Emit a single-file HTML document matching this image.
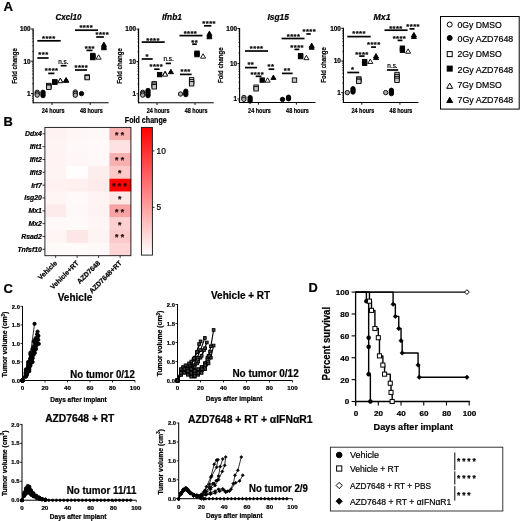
<!DOCTYPE html>
<html><head><meta charset="utf-8"><title>Figure</title>
<style>
html,body{margin:0;padding:0;background:#fff;overflow:hidden;}
svg{display:block;}
text{font-family:'Liberation Sans', Arial, sans-serif;stroke:#000;stroke-width:0.22px;}
</style></head>
<body>
<svg width="520" height="521" viewBox="0 0 520 521">
<rect x="0" y="0" width="520" height="521" fill="#fff"/>
<text x="3.40" y="11.40" font-size="13.2" text-anchor="start" font-weight="bold" stroke-width="0.45">A</text>
<line x1="33.20" y1="28.50" x2="33.20" y2="103.30" stroke="#000" stroke-width="1.1"/>
<line x1="32.70" y1="102.80" x2="108.60" y2="102.80" stroke="#000" stroke-width="1.1"/>
<line x1="31.00" y1="29.00" x2="33.20" y2="29.00" stroke="#000" stroke-width="0.9"/>
<text x="30.60" y="31.30" font-size="6.4" text-anchor="end" font-weight="bold">100</text>
<line x1="31.00" y1="61.20" x2="33.20" y2="61.20" stroke="#000" stroke-width="0.9"/>
<text x="30.60" y="63.50" font-size="6.4" text-anchor="end" font-weight="bold">10</text>
<line x1="31.00" y1="93.50" x2="33.20" y2="93.50" stroke="#000" stroke-width="0.9"/>
<text x="30.60" y="95.80" font-size="6.4" text-anchor="end" font-weight="bold">1</text>
<line x1="31.90" y1="83.79" x2="33.20" y2="83.79" stroke="#000" stroke-width="0.6"/>
<line x1="31.90" y1="78.11" x2="33.20" y2="78.11" stroke="#000" stroke-width="0.6"/>
<line x1="31.90" y1="74.08" x2="33.20" y2="74.08" stroke="#000" stroke-width="0.6"/>
<line x1="31.90" y1="70.96" x2="33.20" y2="70.96" stroke="#000" stroke-width="0.6"/>
<line x1="31.90" y1="68.40" x2="33.20" y2="68.40" stroke="#000" stroke-width="0.6"/>
<line x1="31.90" y1="66.25" x2="33.20" y2="66.25" stroke="#000" stroke-width="0.6"/>
<line x1="31.90" y1="64.38" x2="33.20" y2="64.38" stroke="#000" stroke-width="0.6"/>
<line x1="31.90" y1="62.73" x2="33.20" y2="62.73" stroke="#000" stroke-width="0.6"/>
<line x1="31.90" y1="51.49" x2="33.20" y2="51.49" stroke="#000" stroke-width="0.6"/>
<line x1="31.90" y1="45.81" x2="33.20" y2="45.81" stroke="#000" stroke-width="0.6"/>
<line x1="31.90" y1="41.78" x2="33.20" y2="41.78" stroke="#000" stroke-width="0.6"/>
<line x1="31.90" y1="38.66" x2="33.20" y2="38.66" stroke="#000" stroke-width="0.6"/>
<line x1="31.90" y1="36.10" x2="33.20" y2="36.10" stroke="#000" stroke-width="0.6"/>
<line x1="31.90" y1="33.95" x2="33.20" y2="33.95" stroke="#000" stroke-width="0.6"/>
<line x1="31.90" y1="32.08" x2="33.20" y2="32.08" stroke="#000" stroke-width="0.6"/>
<line x1="31.90" y1="30.43" x2="33.20" y2="30.43" stroke="#000" stroke-width="0.6"/>
<line x1="31.90" y1="100.65" x2="33.20" y2="100.65" stroke="#000" stroke-width="0.6"/>
<line x1="31.90" y1="98.50" x2="33.20" y2="98.50" stroke="#000" stroke-width="0.6"/>
<line x1="31.90" y1="96.63" x2="33.20" y2="96.63" stroke="#000" stroke-width="0.6"/>
<line x1="31.90" y1="94.98" x2="33.20" y2="94.98" stroke="#000" stroke-width="0.6"/>
<line x1="52.00" y1="102.80" x2="52.00" y2="105.00" stroke="#000" stroke-width="0.9"/>
<text x="53.10" y="113.10" font-size="6.9" text-anchor="middle" font-weight="bold" textLength="22.80" lengthAdjust="spacingAndGlyphs">24 hours</text>
<line x1="90.20" y1="102.80" x2="90.20" y2="105.00" stroke="#000" stroke-width="0.9"/>
<text x="91.30" y="113.10" font-size="6.9" text-anchor="middle" font-weight="bold" textLength="22.80" lengthAdjust="spacingAndGlyphs">48 hours</text>
<text x="17.10" y="66.00" font-size="7.2" text-anchor="middle" font-weight="bold" textLength="35.70" lengthAdjust="spacingAndGlyphs" transform="rotate(-90 17.10 66.00)">Fold change</text>
<text x="68.50" y="20.00" font-size="9.3" text-anchor="middle" font-weight="bold" font-style="italic" textLength="26.00" lengthAdjust="spacingAndGlyphs" stroke-width="0.4">Cxcl10</text>
<line x1="37.30" y1="40.80" x2="60.70" y2="40.80" stroke="#000" stroke-width="1.7"/>
<text x="48.85" y="40.61" font-size="7.6" text-anchor="middle" font-weight="bold" letter-spacing="0.45">****</text>
<line x1="37.30" y1="58.00" x2="48.60" y2="58.00" stroke="#000" stroke-width="1.7"/>
<text x="43.45" y="57.41" font-size="7.6" text-anchor="middle" font-weight="bold" letter-spacing="0.45">***</text>
<line x1="48.20" y1="73.40" x2="54.40" y2="73.40" stroke="#000" stroke-width="1.7"/>
<text x="51.65" y="73.21" font-size="7.6" text-anchor="middle" font-weight="bold" letter-spacing="0.45">****</text>
<line x1="60.70" y1="65.70" x2="66.50" y2="65.70" stroke="#000" stroke-width="1.7"/>
<text x="63.40" y="63.50" font-size="6.4" text-anchor="middle">n.s.</text>
<line x1="75.00" y1="30.20" x2="98.00" y2="30.20" stroke="#000" stroke-width="1.7"/>
<text x="86.25" y="30.01" font-size="7.6" text-anchor="middle" font-weight="bold" letter-spacing="0.45">****</text>
<line x1="96.20" y1="37.00" x2="103.90" y2="37.00" stroke="#000" stroke-width="1.7"/>
<text x="102.35" y="37.11" font-size="7.6" text-anchor="middle" font-weight="bold" letter-spacing="0.45">****</text>
<line x1="86.50" y1="50.40" x2="92.50" y2="50.40" stroke="#000" stroke-width="1.7"/>
<text x="89.85" y="50.51" font-size="7.6" text-anchor="middle" font-weight="bold" letter-spacing="0.45">***</text>
<line x1="75.00" y1="70.00" x2="87.00" y2="70.00" stroke="#000" stroke-width="1.7"/>
<text x="81.35" y="69.51" font-size="7.6" text-anchor="middle" font-weight="bold" letter-spacing="0.45">****</text>
<circle cx="37.20" cy="92.30" r="2.20" fill="#aaa" stroke="#000" stroke-width="0.9"/>
<circle cx="37.20" cy="93.70" r="2.20" fill="#aaa" stroke="#000" stroke-width="0.9"/>
<circle cx="37.20" cy="95.10" r="2.20" fill="#aaa" stroke="#000" stroke-width="0.9"/>
<circle cx="43.00" cy="92.30" r="2.20" fill="#000" stroke="#000" stroke-width="0.9"/>
<circle cx="43.00" cy="94.00" r="2.20" fill="#000" stroke="#000" stroke-width="0.9"/>
<circle cx="43.00" cy="95.60" r="2.20" fill="#000" stroke="#000" stroke-width="0.9"/>
<rect x="46.60" y="83.30" width="4.40" height="4.40" fill="#c8c8c8" stroke="#000" stroke-width="0.9"/>
<rect x="46.60" y="84.20" width="4.40" height="4.40" fill="#c8c8c8" stroke="#000" stroke-width="0.9"/>
<rect x="46.60" y="85.10" width="4.40" height="4.40" fill="#c8c8c8" stroke="#000" stroke-width="0.9"/>
<rect x="52.60" y="79.70" width="4.40" height="4.40" fill="#000" stroke="#000" stroke-width="0.9"/>
<rect x="52.60" y="80.00" width="4.40" height="4.40" fill="#000" stroke="#000" stroke-width="0.9"/>
<polygon points="60.30,78.18 62.83,82.58 57.77,82.58" fill="#fff" stroke="#000" stroke-width="0.9"/>
<polygon points="60.30,78.28 62.83,82.68 57.77,82.68" fill="#fff" stroke="#000" stroke-width="0.9"/>
<polygon points="66.10,77.58 68.63,81.98 63.57,81.98" fill="#000" stroke="#000" stroke-width="0.9"/>
<polygon points="66.10,77.88 68.63,82.28 63.57,82.28" fill="#000" stroke="#000" stroke-width="0.9"/>
<circle cx="75.30" cy="92.00" r="2.20" fill="#aaa" stroke="#000" stroke-width="0.9"/>
<circle cx="75.30" cy="93.60" r="2.20" fill="#aaa" stroke="#000" stroke-width="0.9"/>
<circle cx="75.30" cy="95.20" r="2.20" fill="#aaa" stroke="#000" stroke-width="0.9"/>
<circle cx="81.50" cy="93.60" r="2.20" fill="#000" stroke="#000" stroke-width="0.9"/>
<rect x="85.00" y="74.80" width="4.40" height="4.40" fill="#c8c8c8" stroke="#000" stroke-width="0.9"/>
<rect x="85.00" y="75.40" width="4.40" height="4.40" fill="#c8c8c8" stroke="#000" stroke-width="0.9"/>
<rect x="90.60" y="53.30" width="4.40" height="4.40" fill="#000" stroke="#000" stroke-width="0.9"/>
<rect x="90.60" y="54.30" width="4.40" height="4.40" fill="#000" stroke="#000" stroke-width="0.9"/>
<rect x="90.60" y="55.40" width="4.40" height="4.40" fill="#000" stroke="#000" stroke-width="0.9"/>
<polygon points="98.60,54.78 101.13,59.18 96.07,59.18" fill="#fff" stroke="#000" stroke-width="0.9"/>
<polygon points="103.90,42.08 106.43,46.48 101.37,46.48" fill="#000" stroke="#000" stroke-width="0.9"/>
<polygon points="103.90,43.88 106.43,48.28 101.37,48.28" fill="#000" stroke="#000" stroke-width="0.9"/>
<polygon points="103.90,45.38 106.43,49.78 101.37,49.78" fill="#000" stroke="#000" stroke-width="0.9"/>
<line x1="138.60" y1="28.60" x2="138.60" y2="103.30" stroke="#000" stroke-width="1.1"/>
<line x1="138.10" y1="102.80" x2="213.70" y2="102.80" stroke="#000" stroke-width="1.1"/>
<line x1="136.40" y1="29.10" x2="138.60" y2="29.10" stroke="#000" stroke-width="0.9"/>
<text x="136.00" y="31.40" font-size="6.4" text-anchor="end" font-weight="bold">100</text>
<line x1="136.40" y1="61.50" x2="138.60" y2="61.50" stroke="#000" stroke-width="0.9"/>
<text x="136.00" y="63.80" font-size="6.4" text-anchor="end" font-weight="bold">10</text>
<line x1="136.40" y1="93.80" x2="138.60" y2="93.80" stroke="#000" stroke-width="0.9"/>
<text x="136.00" y="96.10" font-size="6.4" text-anchor="end" font-weight="bold">1</text>
<line x1="137.30" y1="84.06" x2="138.60" y2="84.06" stroke="#000" stroke-width="0.6"/>
<line x1="137.30" y1="78.37" x2="138.60" y2="78.37" stroke="#000" stroke-width="0.6"/>
<line x1="137.30" y1="74.32" x2="138.60" y2="74.32" stroke="#000" stroke-width="0.6"/>
<line x1="137.30" y1="71.19" x2="138.60" y2="71.19" stroke="#000" stroke-width="0.6"/>
<line x1="137.30" y1="68.63" x2="138.60" y2="68.63" stroke="#000" stroke-width="0.6"/>
<line x1="137.30" y1="66.46" x2="138.60" y2="66.46" stroke="#000" stroke-width="0.6"/>
<line x1="137.30" y1="64.59" x2="138.60" y2="64.59" stroke="#000" stroke-width="0.6"/>
<line x1="137.30" y1="62.93" x2="138.60" y2="62.93" stroke="#000" stroke-width="0.6"/>
<line x1="137.30" y1="51.76" x2="138.60" y2="51.76" stroke="#000" stroke-width="0.6"/>
<line x1="137.30" y1="46.07" x2="138.60" y2="46.07" stroke="#000" stroke-width="0.6"/>
<line x1="137.30" y1="42.02" x2="138.60" y2="42.02" stroke="#000" stroke-width="0.6"/>
<line x1="137.30" y1="38.89" x2="138.60" y2="38.89" stroke="#000" stroke-width="0.6"/>
<line x1="137.30" y1="36.33" x2="138.60" y2="36.33" stroke="#000" stroke-width="0.6"/>
<line x1="137.30" y1="34.16" x2="138.60" y2="34.16" stroke="#000" stroke-width="0.6"/>
<line x1="137.30" y1="32.29" x2="138.60" y2="32.29" stroke="#000" stroke-width="0.6"/>
<line x1="137.30" y1="30.63" x2="138.60" y2="30.63" stroke="#000" stroke-width="0.6"/>
<line x1="137.30" y1="100.98" x2="138.60" y2="100.98" stroke="#000" stroke-width="0.6"/>
<line x1="137.30" y1="98.81" x2="138.60" y2="98.81" stroke="#000" stroke-width="0.6"/>
<line x1="137.30" y1="96.94" x2="138.60" y2="96.94" stroke="#000" stroke-width="0.6"/>
<line x1="137.30" y1="95.28" x2="138.60" y2="95.28" stroke="#000" stroke-width="0.6"/>
<line x1="157.00" y1="102.80" x2="157.00" y2="105.00" stroke="#000" stroke-width="0.9"/>
<text x="158.10" y="113.10" font-size="6.9" text-anchor="middle" font-weight="bold" textLength="22.80" lengthAdjust="spacingAndGlyphs">24 hours</text>
<line x1="195.00" y1="102.80" x2="195.00" y2="105.00" stroke="#000" stroke-width="0.9"/>
<text x="196.10" y="113.10" font-size="6.9" text-anchor="middle" font-weight="bold" textLength="22.80" lengthAdjust="spacingAndGlyphs">48 hours</text>
<text x="121.70" y="66.00" font-size="7.2" text-anchor="middle" font-weight="bold" textLength="35.70" lengthAdjust="spacingAndGlyphs" transform="rotate(-90 121.70 66.00)">Fold change</text>
<text x="172.00" y="20.00" font-size="9.3" text-anchor="middle" font-weight="bold" font-style="italic" textLength="20.00" lengthAdjust="spacingAndGlyphs" stroke-width="0.4">Ifnb1</text>
<line x1="141.70" y1="42.10" x2="164.70" y2="42.10" stroke="#000" stroke-width="1.7"/>
<text x="153.05" y="42.51" font-size="7.6" text-anchor="middle" font-weight="bold" letter-spacing="0.45">****</text>
<line x1="141.70" y1="59.00" x2="152.70" y2="59.00" stroke="#000" stroke-width="1.7"/>
<text x="147.15" y="59.41" font-size="7.6" text-anchor="middle" font-weight="bold" letter-spacing="0.45">*</text>
<line x1="154.20" y1="69.20" x2="159.60" y2="69.20" stroke="#000" stroke-width="1.7"/>
<text x="156.35" y="69.31" font-size="7.6" text-anchor="middle" font-weight="bold" letter-spacing="0.45">****</text>
<line x1="165.70" y1="63.40" x2="171.00" y2="63.40" stroke="#000" stroke-width="1.7"/>
<text x="168.60" y="60.50" font-size="6.4" text-anchor="middle">n.s.</text>
<line x1="179.50" y1="35.60" x2="202.50" y2="35.60" stroke="#000" stroke-width="1.7"/>
<text x="190.45" y="35.71" font-size="7.6" text-anchor="middle" font-weight="bold" letter-spacing="0.45">****</text>
<line x1="204.00" y1="25.80" x2="211.40" y2="25.80" stroke="#000" stroke-width="1.7"/>
<text x="209.15" y="26.21" font-size="7.6" text-anchor="middle" font-weight="bold" letter-spacing="0.45">****</text>
<line x1="192.20" y1="44.20" x2="196.80" y2="44.20" stroke="#000" stroke-width="1.7"/>
<text x="194.75" y="44.81" font-size="7.6" text-anchor="middle" font-weight="bold" letter-spacing="0.45">**</text>
<line x1="180.00" y1="74.40" x2="191.60" y2="74.40" stroke="#000" stroke-width="1.7"/>
<text x="185.65" y="74.11" font-size="7.6" text-anchor="middle" font-weight="bold" letter-spacing="0.45">***</text>
<circle cx="142.70" cy="92.30" r="2.20" fill="#aaa" stroke="#000" stroke-width="0.9"/>
<circle cx="142.70" cy="93.70" r="2.20" fill="#aaa" stroke="#000" stroke-width="0.9"/>
<circle cx="142.70" cy="95.10" r="2.20" fill="#aaa" stroke="#000" stroke-width="0.9"/>
<circle cx="148.00" cy="90.50" r="2.20" fill="#000" stroke="#000" stroke-width="0.9"/>
<circle cx="148.00" cy="92.30" r="2.20" fill="#000" stroke="#000" stroke-width="0.9"/>
<circle cx="148.00" cy="94.20" r="2.20" fill="#000" stroke="#000" stroke-width="0.9"/>
<circle cx="148.00" cy="95.60" r="2.20" fill="#000" stroke="#000" stroke-width="0.9"/>
<rect x="152.00" y="81.60" width="4.40" height="4.40" fill="#c8c8c8" stroke="#000" stroke-width="0.9"/>
<rect x="152.00" y="83.00" width="4.40" height="4.40" fill="#c8c8c8" stroke="#000" stroke-width="0.9"/>
<rect x="152.00" y="84.60" width="4.40" height="4.40" fill="#c8c8c8" stroke="#000" stroke-width="0.9"/>
<rect x="157.40" y="72.40" width="4.40" height="4.40" fill="#000" stroke="#000" stroke-width="0.9"/>
<polygon points="165.10,71.18 167.63,75.58 162.57,75.58" fill="#fff" stroke="#000" stroke-width="0.9"/>
<polygon points="165.10,71.78 167.63,76.18 162.57,76.18" fill="#fff" stroke="#000" stroke-width="0.9"/>
<polygon points="170.90,69.28 173.43,73.68 168.37,73.68" fill="#000" stroke="#000" stroke-width="0.9"/>
<circle cx="180.50" cy="94.00" r="2.20" fill="#aaa" stroke="#000" stroke-width="0.9"/>
<circle cx="185.80" cy="91.20" r="2.20" fill="#000" stroke="#000" stroke-width="0.9"/>
<circle cx="185.80" cy="93.00" r="2.20" fill="#000" stroke="#000" stroke-width="0.9"/>
<circle cx="185.80" cy="94.60" r="2.20" fill="#000" stroke="#000" stroke-width="0.9"/>
<rect x="189.40" y="77.60" width="4.40" height="4.40" fill="#c8c8c8" stroke="#000" stroke-width="0.9"/>
<rect x="189.40" y="79.60" width="4.40" height="4.40" fill="#c8c8c8" stroke="#000" stroke-width="0.9"/>
<rect x="189.40" y="81.60" width="4.40" height="4.40" fill="#c8c8c8" stroke="#000" stroke-width="0.9"/>
<rect x="194.80" y="51.00" width="4.40" height="4.40" fill="#000" stroke="#000" stroke-width="0.9"/>
<rect x="194.80" y="52.40" width="4.40" height="4.40" fill="#000" stroke="#000" stroke-width="0.9"/>
<polygon points="203.10,53.78 205.63,58.18 200.57,58.18" fill="#fff" stroke="#000" stroke-width="0.9"/>
<polygon points="209.40,31.08 211.93,35.48 206.87,35.48" fill="#000" stroke="#000" stroke-width="0.9"/>
<polygon points="209.40,32.78 211.93,37.18 206.87,37.18" fill="#000" stroke="#000" stroke-width="0.9"/>
<polygon points="209.40,34.38 211.93,38.78 206.87,38.78" fill="#000" stroke="#000" stroke-width="0.9"/>
<line x1="239.60" y1="28.00" x2="239.60" y2="103.00" stroke="#000" stroke-width="1.1"/>
<line x1="239.10" y1="102.50" x2="315.50" y2="102.50" stroke="#000" stroke-width="1.1"/>
<line x1="237.40" y1="28.50" x2="239.60" y2="28.50" stroke="#000" stroke-width="0.9"/>
<text x="237.00" y="30.80" font-size="6.4" text-anchor="end" font-weight="bold">100</text>
<line x1="237.40" y1="63.60" x2="239.60" y2="63.60" stroke="#000" stroke-width="0.9"/>
<text x="237.00" y="65.90" font-size="6.4" text-anchor="end" font-weight="bold">10</text>
<line x1="237.40" y1="99.00" x2="239.60" y2="99.00" stroke="#000" stroke-width="0.9"/>
<text x="237.00" y="101.30" font-size="6.4" text-anchor="end" font-weight="bold">1</text>
<line x1="238.30" y1="88.39" x2="239.60" y2="88.39" stroke="#000" stroke-width="0.6"/>
<line x1="238.30" y1="82.18" x2="239.60" y2="82.18" stroke="#000" stroke-width="0.6"/>
<line x1="238.30" y1="77.78" x2="239.60" y2="77.78" stroke="#000" stroke-width="0.6"/>
<line x1="238.30" y1="74.36" x2="239.60" y2="74.36" stroke="#000" stroke-width="0.6"/>
<line x1="238.30" y1="71.57" x2="239.60" y2="71.57" stroke="#000" stroke-width="0.6"/>
<line x1="238.30" y1="69.21" x2="239.60" y2="69.21" stroke="#000" stroke-width="0.6"/>
<line x1="238.30" y1="67.17" x2="239.60" y2="67.17" stroke="#000" stroke-width="0.6"/>
<line x1="238.30" y1="65.36" x2="239.60" y2="65.36" stroke="#000" stroke-width="0.6"/>
<line x1="238.30" y1="52.99" x2="239.60" y2="52.99" stroke="#000" stroke-width="0.6"/>
<line x1="238.30" y1="46.78" x2="239.60" y2="46.78" stroke="#000" stroke-width="0.6"/>
<line x1="238.30" y1="42.38" x2="239.60" y2="42.38" stroke="#000" stroke-width="0.6"/>
<line x1="238.30" y1="38.96" x2="239.60" y2="38.96" stroke="#000" stroke-width="0.6"/>
<line x1="238.30" y1="36.17" x2="239.60" y2="36.17" stroke="#000" stroke-width="0.6"/>
<line x1="238.30" y1="33.81" x2="239.60" y2="33.81" stroke="#000" stroke-width="0.6"/>
<line x1="238.30" y1="31.77" x2="239.60" y2="31.77" stroke="#000" stroke-width="0.6"/>
<line x1="238.30" y1="29.96" x2="239.60" y2="29.96" stroke="#000" stroke-width="0.6"/>
<line x1="238.30" y1="100.61" x2="239.60" y2="100.61" stroke="#000" stroke-width="0.6"/>
<line x1="258.40" y1="102.50" x2="258.40" y2="104.70" stroke="#000" stroke-width="0.9"/>
<text x="259.50" y="112.80" font-size="6.9" text-anchor="middle" font-weight="bold" textLength="22.80" lengthAdjust="spacingAndGlyphs">24 hours</text>
<line x1="296.40" y1="102.50" x2="296.40" y2="104.70" stroke="#000" stroke-width="0.9"/>
<text x="297.50" y="112.80" font-size="6.9" text-anchor="middle" font-weight="bold" textLength="22.80" lengthAdjust="spacingAndGlyphs">48 hours</text>
<text x="223.30" y="65.20" font-size="7.2" text-anchor="middle" font-weight="bold" textLength="35.70" lengthAdjust="spacingAndGlyphs" transform="rotate(-90 223.30 65.20)">Fold change</text>
<text x="278.20" y="20.00" font-size="9.3" text-anchor="middle" font-weight="bold" font-style="italic" textLength="21.50" lengthAdjust="spacingAndGlyphs" stroke-width="0.4">Isg15</text>
<line x1="245.00" y1="51.00" x2="268.00" y2="51.00" stroke="#000" stroke-width="1.7"/>
<text x="256.65" y="51.11" font-size="7.6" text-anchor="middle" font-weight="bold" letter-spacing="0.45">****</text>
<line x1="245.00" y1="67.60" x2="257.00" y2="67.60" stroke="#000" stroke-width="1.7"/>
<text x="250.85" y="67.01" font-size="7.6" text-anchor="middle" font-weight="bold" letter-spacing="0.45">**</text>
<line x1="255.70" y1="76.30" x2="261.50" y2="76.30" stroke="#000" stroke-width="1.7"/>
<text x="257.25" y="76.61" font-size="7.6" text-anchor="middle" font-weight="bold" letter-spacing="0.45">****</text>
<line x1="268.60" y1="69.20" x2="274.30" y2="69.20" stroke="#000" stroke-width="1.7"/>
<text x="270.95" y="69.01" font-size="7.6" text-anchor="middle" font-weight="bold" letter-spacing="0.45">**</text>
<line x1="281.60" y1="38.50" x2="304.50" y2="38.50" stroke="#000" stroke-width="1.7"/>
<text x="293.55" y="39.01" font-size="7.6" text-anchor="middle" font-weight="bold" letter-spacing="0.45">****</text>
<line x1="306.40" y1="34.00" x2="310.80" y2="34.00" stroke="#000" stroke-width="1.7"/>
<text x="309.35" y="34.21" font-size="7.6" text-anchor="middle" font-weight="bold" letter-spacing="0.45">****</text>
<line x1="294.50" y1="49.40" x2="299.30" y2="49.40" stroke="#000" stroke-width="1.7"/>
<text x="297.15" y="49.81" font-size="7.6" text-anchor="middle" font-weight="bold" letter-spacing="0.45">****</text>
<line x1="282.00" y1="73.40" x2="292.60" y2="73.40" stroke="#000" stroke-width="1.7"/>
<text x="287.15" y="72.81" font-size="7.6" text-anchor="middle" font-weight="bold" letter-spacing="0.45">**</text>
<circle cx="243.90" cy="97.50" r="2.20" fill="#aaa" stroke="#000" stroke-width="0.9"/>
<circle cx="243.90" cy="99.30" r="2.20" fill="#aaa" stroke="#000" stroke-width="0.9"/>
<circle cx="250.10" cy="97.60" r="2.20" fill="#000" stroke="#000" stroke-width="0.9"/>
<circle cx="250.10" cy="99.40" r="2.20" fill="#000" stroke="#000" stroke-width="0.9"/>
<circle cx="250.10" cy="101.00" r="2.20" fill="#000" stroke="#000" stroke-width="0.9"/>
<rect x="253.90" y="85.00" width="4.40" height="4.40" fill="#c8c8c8" stroke="#000" stroke-width="0.9"/>
<rect x="253.90" y="86.60" width="4.40" height="4.40" fill="#c8c8c8" stroke="#000" stroke-width="0.9"/>
<rect x="260.00" y="77.90" width="4.40" height="4.40" fill="#000" stroke="#000" stroke-width="0.9"/>
<polygon points="267.60,77.78 270.13,82.18 265.07,82.18" fill="#fff" stroke="#000" stroke-width="0.9"/>
<polygon points="273.40,75.08 275.93,79.48 270.87,79.48" fill="#000" stroke="#000" stroke-width="0.9"/>
<circle cx="282.50" cy="99.40" r="2.20" fill="#000" stroke="#000" stroke-width="0.9"/>
<circle cx="288.50" cy="97.20" r="2.20" fill="#000" stroke="#000" stroke-width="0.9"/>
<circle cx="288.50" cy="98.80" r="2.20" fill="#000" stroke="#000" stroke-width="0.9"/>
<rect x="292.30" y="77.90" width="4.40" height="4.40" fill="#c8c8c8" stroke="#000" stroke-width="0.9"/>
<rect x="298.40" y="53.40" width="4.40" height="4.40" fill="#000" stroke="#000" stroke-width="0.9"/>
<rect x="298.40" y="54.40" width="4.40" height="4.40" fill="#000" stroke="#000" stroke-width="0.9"/>
<polygon points="306.40,55.28 308.93,59.68 303.87,59.68" fill="#fff" stroke="#000" stroke-width="0.9"/>
<polygon points="311.70,43.08 314.23,47.48 309.17,47.48" fill="#000" stroke="#000" stroke-width="0.9"/>
<polygon points="311.70,44.88 314.23,49.28 309.17,49.28" fill="#000" stroke="#000" stroke-width="0.9"/>
<line x1="343.40" y1="27.80" x2="343.40" y2="103.00" stroke="#000" stroke-width="1.1"/>
<line x1="342.90" y1="102.50" x2="418.40" y2="102.50" stroke="#000" stroke-width="1.1"/>
<line x1="341.20" y1="28.30" x2="343.40" y2="28.30" stroke="#000" stroke-width="0.9"/>
<text x="340.80" y="30.60" font-size="6.4" text-anchor="end" font-weight="bold">100</text>
<line x1="341.20" y1="61.00" x2="343.40" y2="61.00" stroke="#000" stroke-width="0.9"/>
<text x="340.80" y="63.30" font-size="6.4" text-anchor="end" font-weight="bold">10</text>
<line x1="341.20" y1="92.60" x2="343.40" y2="92.60" stroke="#000" stroke-width="0.9"/>
<text x="340.80" y="94.90" font-size="6.4" text-anchor="end" font-weight="bold">1</text>
<line x1="342.10" y1="82.92" x2="343.40" y2="82.92" stroke="#000" stroke-width="0.6"/>
<line x1="342.10" y1="77.26" x2="343.40" y2="77.26" stroke="#000" stroke-width="0.6"/>
<line x1="342.10" y1="73.24" x2="343.40" y2="73.24" stroke="#000" stroke-width="0.6"/>
<line x1="342.10" y1="70.13" x2="343.40" y2="70.13" stroke="#000" stroke-width="0.6"/>
<line x1="342.10" y1="67.58" x2="343.40" y2="67.58" stroke="#000" stroke-width="0.6"/>
<line x1="342.10" y1="65.43" x2="343.40" y2="65.43" stroke="#000" stroke-width="0.6"/>
<line x1="342.10" y1="63.57" x2="343.40" y2="63.57" stroke="#000" stroke-width="0.6"/>
<line x1="342.10" y1="61.92" x2="343.40" y2="61.92" stroke="#000" stroke-width="0.6"/>
<line x1="342.10" y1="51.32" x2="343.40" y2="51.32" stroke="#000" stroke-width="0.6"/>
<line x1="342.10" y1="45.66" x2="343.40" y2="45.66" stroke="#000" stroke-width="0.6"/>
<line x1="342.10" y1="41.64" x2="343.40" y2="41.64" stroke="#000" stroke-width="0.6"/>
<line x1="342.10" y1="38.53" x2="343.40" y2="38.53" stroke="#000" stroke-width="0.6"/>
<line x1="342.10" y1="35.98" x2="343.40" y2="35.98" stroke="#000" stroke-width="0.6"/>
<line x1="342.10" y1="33.83" x2="343.40" y2="33.83" stroke="#000" stroke-width="0.6"/>
<line x1="342.10" y1="31.97" x2="343.40" y2="31.97" stroke="#000" stroke-width="0.6"/>
<line x1="342.10" y1="30.32" x2="343.40" y2="30.32" stroke="#000" stroke-width="0.6"/>
<line x1="342.10" y1="99.73" x2="343.40" y2="99.73" stroke="#000" stroke-width="0.6"/>
<line x1="342.10" y1="97.58" x2="343.40" y2="97.58" stroke="#000" stroke-width="0.6"/>
<line x1="342.10" y1="95.72" x2="343.40" y2="95.72" stroke="#000" stroke-width="0.6"/>
<line x1="342.10" y1="94.07" x2="343.40" y2="94.07" stroke="#000" stroke-width="0.6"/>
<line x1="361.80" y1="102.50" x2="361.80" y2="104.70" stroke="#000" stroke-width="0.9"/>
<text x="362.90" y="112.80" font-size="6.9" text-anchor="middle" font-weight="bold" textLength="22.80" lengthAdjust="spacingAndGlyphs">24 hours</text>
<line x1="399.90" y1="102.50" x2="399.90" y2="104.70" stroke="#000" stroke-width="0.9"/>
<text x="401.00" y="112.80" font-size="6.9" text-anchor="middle" font-weight="bold" textLength="22.80" lengthAdjust="spacingAndGlyphs">48 hours</text>
<text x="326.40" y="64.90" font-size="7.2" text-anchor="middle" font-weight="bold" textLength="35.70" lengthAdjust="spacingAndGlyphs" transform="rotate(-90 326.40 64.90)">Fold change</text>
<text x="382.00" y="20.00" font-size="9.3" text-anchor="middle" font-weight="bold" font-style="italic" textLength="17.00" lengthAdjust="spacingAndGlyphs" stroke-width="0.4">Mx1</text>
<line x1="347.30" y1="36.60" x2="370.70" y2="36.60" stroke="#000" stroke-width="1.7"/>
<text x="359.05" y="36.31" font-size="7.6" text-anchor="middle" font-weight="bold" letter-spacing="0.45">****</text>
<line x1="347.30" y1="72.50" x2="359.20" y2="72.50" stroke="#000" stroke-width="1.7"/>
<text x="352.75" y="72.21" font-size="7.6" text-anchor="middle" font-weight="bold" letter-spacing="0.45">*</text>
<line x1="359.20" y1="56.10" x2="364.60" y2="56.10" stroke="#000" stroke-width="1.7"/>
<text x="361.95" y="56.51" font-size="7.6" text-anchor="middle" font-weight="bold" letter-spacing="0.45">****</text>
<line x1="371.10" y1="47.10" x2="376.00" y2="47.10" stroke="#000" stroke-width="1.7"/>
<text x="373.85" y="46.71" font-size="7.6" text-anchor="middle" font-weight="bold" letter-spacing="0.45">****</text>
<line x1="384.50" y1="30.20" x2="407.60" y2="30.20" stroke="#000" stroke-width="1.7"/>
<text x="395.95" y="30.61" font-size="7.6" text-anchor="middle" font-weight="bold" letter-spacing="0.45">****</text>
<line x1="409.50" y1="28.90" x2="414.50" y2="28.90" stroke="#000" stroke-width="1.7"/>
<text x="413.15" y="29.41" font-size="7.6" text-anchor="middle" font-weight="bold" letter-spacing="0.45">****</text>
<line x1="397.60" y1="40.40" x2="402.40" y2="40.40" stroke="#000" stroke-width="1.7"/>
<text x="399.45" y="40.61" font-size="7.6" text-anchor="middle" font-weight="bold" letter-spacing="0.45">****</text>
<line x1="386.90" y1="70.00" x2="398.20" y2="70.00" stroke="#000" stroke-width="1.7"/>
<text x="392.50" y="68.30" font-size="6.4" text-anchor="middle">n.s.</text>
<circle cx="347.30" cy="92.60" r="2.20" fill="#aaa" stroke="#000" stroke-width="0.9"/>
<circle cx="353.00" cy="88.80" r="2.20" fill="#000" stroke="#000" stroke-width="0.9"/>
<circle cx="353.00" cy="90.50" r="2.20" fill="#000" stroke="#000" stroke-width="0.9"/>
<circle cx="353.00" cy="92.00" r="2.20" fill="#000" stroke="#000" stroke-width="0.9"/>
<rect x="356.60" y="76.80" width="4.40" height="4.40" fill="#c8c8c8" stroke="#000" stroke-width="0.9"/>
<rect x="356.60" y="78.00" width="4.40" height="4.40" fill="#c8c8c8" stroke="#000" stroke-width="0.9"/>
<rect x="356.60" y="79.20" width="4.40" height="4.40" fill="#c8c8c8" stroke="#000" stroke-width="0.9"/>
<rect x="362.40" y="59.40" width="4.40" height="4.40" fill="#000" stroke="#000" stroke-width="0.9"/>
<rect x="362.40" y="61.10" width="4.40" height="4.40" fill="#000" stroke="#000" stroke-width="0.9"/>
<polygon points="370.30,59.08 372.83,63.48 367.77,63.48" fill="#fff" stroke="#000" stroke-width="0.9"/>
<polygon points="376.00,53.58 378.53,57.98 373.47,57.98" fill="#000" stroke="#000" stroke-width="0.9"/>
<polygon points="376.00,55.18 378.53,59.58 373.47,59.58" fill="#000" stroke="#000" stroke-width="0.9"/>
<circle cx="385.70" cy="92.60" r="2.20" fill="#aaa" stroke="#000" stroke-width="0.9"/>
<circle cx="391.40" cy="90.30" r="2.20" fill="#000" stroke="#000" stroke-width="0.9"/>
<circle cx="391.40" cy="92.20" r="2.20" fill="#000" stroke="#000" stroke-width="0.9"/>
<circle cx="391.40" cy="93.60" r="2.20" fill="#000" stroke="#000" stroke-width="0.9"/>
<rect x="394.80" y="72.30" width="4.40" height="4.40" fill="#c8c8c8" stroke="#000" stroke-width="0.9"/>
<rect x="394.80" y="74.30" width="4.40" height="4.40" fill="#c8c8c8" stroke="#000" stroke-width="0.9"/>
<rect x="394.80" y="76.30" width="4.40" height="4.40" fill="#c8c8c8" stroke="#000" stroke-width="0.9"/>
<rect x="394.80" y="78.10" width="4.40" height="4.40" fill="#c8c8c8" stroke="#000" stroke-width="0.9"/>
<rect x="400.20" y="46.00" width="4.40" height="4.40" fill="#000" stroke="#000" stroke-width="0.9"/>
<rect x="400.20" y="48.10" width="4.40" height="4.40" fill="#000" stroke="#000" stroke-width="0.9"/>
<polygon points="408.10,48.88 410.63,53.28 405.57,53.28" fill="#fff" stroke="#000" stroke-width="0.9"/>
<polygon points="413.90,32.38 416.43,36.78 411.37,36.78" fill="#000" stroke="#000" stroke-width="0.9"/>
<polygon points="413.90,34.08 416.43,38.48 411.37,38.48" fill="#000" stroke="#000" stroke-width="0.9"/>
<rect x="440.50" y="16.50" width="78.70" height="92.60" fill="none" stroke="#000" stroke-width="1.0"/>
<circle cx="449.70" cy="24.50" r="2.50" fill="#fff" stroke="#000" stroke-width="1.0"/>
<text x="457.50" y="27.60" font-size="9.7" text-anchor="start" textLength="44.30" lengthAdjust="spacingAndGlyphs">0Gy DMSO</text>
<circle cx="449.70" cy="38.00" r="2.50" fill="#000" stroke="#000" stroke-width="1.0"/>
<text x="457.50" y="42.30" font-size="9.7" text-anchor="start" textLength="55.80" lengthAdjust="spacingAndGlyphs">0Gy AZD7648</text>
<rect x="447.20" y="51.60" width="5.00" height="5.00" fill="#fff" stroke="#000" stroke-width="1.0"/>
<text x="457.50" y="57.10" font-size="9.7" text-anchor="start" textLength="44.30" lengthAdjust="spacingAndGlyphs">2Gy DMSO</text>
<rect x="447.20" y="66.10" width="5.00" height="5.00" fill="#000" stroke="#000" stroke-width="1.0"/>
<text x="457.50" y="72.50" font-size="9.7" text-anchor="start" textLength="55.80" lengthAdjust="spacingAndGlyphs">2Gy AZD7648</text>
<polygon points="449.70,83.14 452.69,88.34 446.71,88.34" fill="#fff" stroke="#000" stroke-width="1.0"/>
<text x="457.50" y="88.10" font-size="9.7" text-anchor="start" textLength="44.30" lengthAdjust="spacingAndGlyphs">7Gy DMSO</text>
<polygon points="449.70,97.34 452.69,102.54 446.71,102.54" fill="#000" stroke="#000" stroke-width="1.0"/>
<text x="457.50" y="103.30" font-size="9.7" text-anchor="start" textLength="55.80" lengthAdjust="spacingAndGlyphs">7Gy AZD7648</text>
<text x="3.60" y="126.00" font-size="12.9" text-anchor="start" font-weight="bold" stroke-width="0.4">B</text>
<rect x="44.90" y="127.40" width="21.80" height="13.13" fill="#fff2f2"/>
<rect x="44.90" y="140.23" width="21.80" height="13.13" fill="#fff4f4"/>
<rect x="44.90" y="153.06" width="21.80" height="13.13" fill="#fff3f3"/>
<rect x="44.90" y="165.89" width="21.80" height="13.13" fill="#fff4f4"/>
<rect x="44.90" y="178.72" width="21.80" height="13.13" fill="#fff1f1"/>
<rect x="44.90" y="191.55" width="21.80" height="13.13" fill="#fff5f5"/>
<rect x="44.90" y="204.38" width="21.80" height="13.13" fill="#fdebeb"/>
<rect x="44.90" y="217.21" width="21.80" height="13.13" fill="#fff8f8"/>
<rect x="44.90" y="230.04" width="21.80" height="13.13" fill="#fff5f5"/>
<rect x="44.90" y="242.87" width="21.80" height="13.13" fill="#fffafa"/>
<rect x="66.40" y="127.40" width="21.80" height="13.13" fill="#fff6f6"/>
<rect x="66.40" y="140.23" width="21.80" height="13.13" fill="#fff8f8"/>
<rect x="66.40" y="153.06" width="21.80" height="13.13" fill="#fff7f7"/>
<rect x="66.40" y="165.89" width="21.80" height="13.13" fill="#fffdfd"/>
<rect x="66.40" y="178.72" width="21.80" height="13.13" fill="#fff0f0"/>
<rect x="66.40" y="191.55" width="21.80" height="13.13" fill="#fff9f9"/>
<rect x="66.40" y="204.38" width="21.80" height="13.13" fill="#fff8f8"/>
<rect x="66.40" y="217.21" width="21.80" height="13.13" fill="#fffafa"/>
<rect x="66.40" y="230.04" width="21.80" height="13.13" fill="#fde6e6"/>
<rect x="66.40" y="242.87" width="21.80" height="13.13" fill="#fffbfb"/>
<rect x="87.90" y="127.40" width="21.80" height="13.13" fill="#fff8f8"/>
<rect x="87.90" y="140.23" width="21.80" height="13.13" fill="#fff9f9"/>
<rect x="87.90" y="153.06" width="21.80" height="13.13" fill="#fff8f8"/>
<rect x="87.90" y="165.89" width="21.80" height="13.13" fill="#fdeeee"/>
<rect x="87.90" y="178.72" width="21.80" height="13.13" fill="#fdeaea"/>
<rect x="87.90" y="191.55" width="21.80" height="13.13" fill="#fff3f3"/>
<rect x="87.90" y="204.38" width="21.80" height="13.13" fill="#fff2f2"/>
<rect x="87.90" y="217.21" width="21.80" height="13.13" fill="#fff5f5"/>
<rect x="87.90" y="230.04" width="21.80" height="13.13" fill="#fff4f4"/>
<rect x="87.90" y="242.87" width="21.80" height="13.13" fill="#fff8f8"/>
<rect x="109.40" y="127.40" width="21.80" height="13.13" fill="#f9b1b1"/>
<rect x="109.40" y="140.23" width="21.80" height="13.13" fill="#fde2e2"/>
<rect x="109.40" y="153.06" width="21.80" height="13.13" fill="#f8afaf"/>
<rect x="109.40" y="165.89" width="21.80" height="13.13" fill="#fcc8c8"/>
<rect x="109.40" y="178.72" width="21.80" height="13.13" fill="#fd0303"/>
<rect x="109.40" y="191.55" width="21.80" height="13.13" fill="#fde6e6"/>
<rect x="109.40" y="204.38" width="21.80" height="13.13" fill="#f7a3a3"/>
<rect x="109.40" y="217.21" width="21.80" height="13.13" fill="#fcd0d0"/>
<rect x="109.40" y="230.04" width="21.80" height="13.13" fill="#fbcaca"/>
<rect x="109.40" y="242.87" width="21.80" height="13.13" fill="#fcd5d5"/>
<rect x="44.90" y="127.40" width="86.00" height="128.30" fill="none" stroke="#111" stroke-width="0.9"/>
<line x1="42.50" y1="133.81" x2="44.90" y2="133.81" stroke="#000" stroke-width="0.8"/>
<text x="41.90" y="136.26" font-size="6.9" text-anchor="end" font-weight="bold" font-style="italic">Ddx4</text>
<text x="120.65" y="137.81" font-size="8.6" text-anchor="middle" font-weight="bold" fill="#311" letter-spacing="2.2">**</text>
<line x1="42.50" y1="146.65" x2="44.90" y2="146.65" stroke="#000" stroke-width="0.8"/>
<text x="41.90" y="149.09" font-size="6.9" text-anchor="end" font-weight="bold" font-style="italic">Ifit1</text>
<line x1="42.50" y1="159.48" x2="44.90" y2="159.48" stroke="#000" stroke-width="0.8"/>
<text x="41.90" y="161.93" font-size="6.9" text-anchor="end" font-weight="bold" font-style="italic">Ifit2</text>
<text x="120.65" y="163.48" font-size="8.6" text-anchor="middle" font-weight="bold" fill="#311" letter-spacing="2.2">**</text>
<line x1="42.50" y1="172.31" x2="44.90" y2="172.31" stroke="#000" stroke-width="0.8"/>
<text x="41.90" y="174.75" font-size="6.9" text-anchor="end" font-weight="bold" font-style="italic">Ifit3</text>
<text x="120.65" y="176.31" font-size="8.6" text-anchor="middle" font-weight="bold" fill="#311" letter-spacing="2.2">*</text>
<line x1="42.50" y1="185.13" x2="44.90" y2="185.13" stroke="#000" stroke-width="0.8"/>
<text x="41.90" y="187.58" font-size="6.9" text-anchor="end" font-weight="bold" font-style="italic">Irf7</text>
<text x="120.65" y="189.13" font-size="8.6" text-anchor="middle" font-weight="bold" fill="#311" letter-spacing="2.2">***</text>
<line x1="42.50" y1="197.97" x2="44.90" y2="197.97" stroke="#000" stroke-width="0.8"/>
<text x="41.90" y="200.41" font-size="6.9" text-anchor="end" font-weight="bold" font-style="italic">Isg20</text>
<text x="120.65" y="201.97" font-size="8.6" text-anchor="middle" font-weight="bold" fill="#311" letter-spacing="2.2">*</text>
<line x1="42.50" y1="210.80" x2="44.90" y2="210.80" stroke="#000" stroke-width="0.8"/>
<text x="41.90" y="213.25" font-size="6.9" text-anchor="end" font-weight="bold" font-style="italic">Mx1</text>
<text x="120.65" y="214.80" font-size="8.6" text-anchor="middle" font-weight="bold" fill="#311" letter-spacing="2.2">**</text>
<line x1="42.50" y1="223.62" x2="44.90" y2="223.62" stroke="#000" stroke-width="0.8"/>
<text x="41.90" y="226.07" font-size="6.9" text-anchor="end" font-weight="bold" font-style="italic">Mx2</text>
<text x="120.65" y="227.62" font-size="8.6" text-anchor="middle" font-weight="bold" fill="#311" letter-spacing="2.2">*</text>
<line x1="42.50" y1="236.46" x2="44.90" y2="236.46" stroke="#000" stroke-width="0.8"/>
<text x="41.90" y="238.91" font-size="6.9" text-anchor="end" font-weight="bold" font-style="italic">Rsad2</text>
<text x="120.65" y="240.46" font-size="8.6" text-anchor="middle" font-weight="bold" fill="#311" letter-spacing="2.2">**</text>
<line x1="42.50" y1="249.29" x2="44.90" y2="249.29" stroke="#000" stroke-width="0.8"/>
<text x="41.90" y="251.74" font-size="6.9" text-anchor="end" font-weight="bold" font-style="italic">Tnfsf10</text>
<line x1="55.65" y1="255.70" x2="55.65" y2="257.90" stroke="#000" stroke-width="0.8"/>
<text x="57.65" y="263.50" font-size="6.9" text-anchor="end" font-weight="bold" transform="rotate(-45 57.65 263.50)">Vehicle</text>
<line x1="77.15" y1="255.70" x2="77.15" y2="257.90" stroke="#000" stroke-width="0.8"/>
<text x="79.15" y="263.50" font-size="6.9" text-anchor="end" font-weight="bold" transform="rotate(-45 79.15 263.50)">Vehicle+RT</text>
<line x1="98.65" y1="255.70" x2="98.65" y2="257.90" stroke="#000" stroke-width="0.8"/>
<text x="100.65" y="263.50" font-size="6.9" text-anchor="end" font-weight="bold" transform="rotate(-45 100.65 263.50)">AZD7648</text>
<line x1="120.15" y1="255.70" x2="120.15" y2="257.90" stroke="#000" stroke-width="0.8"/>
<text x="122.15" y="263.50" font-size="6.9" text-anchor="end" font-weight="bold" transform="rotate(-45 122.15 263.50)">AZD7648+RT</text>
<defs><linearGradient id="cb" x1="0" y1="1" x2="0" y2="0"><stop offset="0" stop-color="#ffffff"/><stop offset="1" stop-color="#ff0000"/></linearGradient></defs>
<rect x="141.40" y="127.40" width="11.00" height="127.70" fill="url(#cb)" stroke="#111" stroke-width="0.9"/>
<line x1="152.40" y1="150.90" x2="154.60" y2="150.90" stroke="#000" stroke-width="0.8"/>
<text x="156.60" y="154.00" font-size="8.4" text-anchor="start">10</text>
<line x1="152.40" y1="207.30" x2="154.60" y2="207.30" stroke="#000" stroke-width="0.8"/>
<text x="156.60" y="210.40" font-size="8.4" text-anchor="start">5</text>
<text x="145.80" y="122.70" font-size="8.3" text-anchor="middle" font-weight="bold" textLength="42.00" lengthAdjust="spacingAndGlyphs">Fold change</text>
<text x="3.60" y="292.50" font-size="13" text-anchor="start" font-weight="bold" stroke-width="0.4">C</text>
<line x1="22.50" y1="306.00" x2="22.50" y2="381.00" stroke="#000" stroke-width="1.0"/>
<line x1="22.00" y1="380.50" x2="135.00" y2="380.50" stroke="#000" stroke-width="1.0"/>
<line x1="20.50" y1="380.50" x2="22.50" y2="380.50" stroke="#000" stroke-width="0.8"/>
<text x="19.90" y="382.60" font-size="5.8" text-anchor="end" font-weight="bold">0.0</text>
<line x1="20.50" y1="361.98" x2="22.50" y2="361.98" stroke="#000" stroke-width="0.8"/>
<text x="19.90" y="364.08" font-size="5.8" text-anchor="end" font-weight="bold">0.5</text>
<line x1="20.50" y1="343.45" x2="22.50" y2="343.45" stroke="#000" stroke-width="0.8"/>
<text x="19.90" y="345.55" font-size="5.8" text-anchor="end" font-weight="bold">1.0</text>
<line x1="20.50" y1="324.92" x2="22.50" y2="324.92" stroke="#000" stroke-width="0.8"/>
<text x="19.90" y="327.02" font-size="5.8" text-anchor="end" font-weight="bold">1.5</text>
<line x1="20.50" y1="306.40" x2="22.50" y2="306.40" stroke="#000" stroke-width="0.8"/>
<text x="19.90" y="308.50" font-size="5.8" text-anchor="end" font-weight="bold">2.0</text>
<line x1="22.50" y1="380.50" x2="22.50" y2="382.50" stroke="#000" stroke-width="0.8"/>
<text x="22.50" y="390.40" font-size="6.2" text-anchor="middle" font-weight="bold">0</text>
<line x1="45.00" y1="380.50" x2="45.00" y2="382.50" stroke="#000" stroke-width="0.8"/>
<text x="45.00" y="390.40" font-size="6.2" text-anchor="middle" font-weight="bold">20</text>
<line x1="67.50" y1="380.50" x2="67.50" y2="382.50" stroke="#000" stroke-width="0.8"/>
<text x="67.50" y="390.40" font-size="6.2" text-anchor="middle" font-weight="bold">40</text>
<line x1="90.00" y1="380.50" x2="90.00" y2="382.50" stroke="#000" stroke-width="0.8"/>
<text x="90.00" y="390.40" font-size="6.2" text-anchor="middle" font-weight="bold">60</text>
<line x1="112.50" y1="380.50" x2="112.50" y2="382.50" stroke="#000" stroke-width="0.8"/>
<text x="112.50" y="390.40" font-size="6.2" text-anchor="middle" font-weight="bold">80</text>
<line x1="135.00" y1="380.50" x2="135.00" y2="382.50" stroke="#000" stroke-width="0.8"/>
<text x="135.00" y="390.40" font-size="6.2" text-anchor="middle" font-weight="bold">100</text>
<text x="78.50" y="402.40" font-size="7.3" text-anchor="middle" font-weight="bold" textLength="56.60" lengthAdjust="spacingAndGlyphs">Days after implant</text>
<text x="7.30" y="344.45" font-size="7.0" text-anchor="middle" font-weight="bold" textLength="65.50" lengthAdjust="spacingAndGlyphs" transform="rotate(-90 7.30 344.45)">Tumor volume (cm<tspan font-size="4.5" dy="-2.5">3</tspan><tspan dy="2.5">)</tspan></text>
<text x="75.00" y="301.20" font-size="10.4" text-anchor="middle" font-weight="bold" textLength="34.60" lengthAdjust="spacingAndGlyphs">Vehicle</text>
<text x="70.30" y="377.60" font-size="10.4" text-anchor="start" font-weight="bold" textLength="64.50" lengthAdjust="spacingAndGlyphs">No tumor 0/12</text>
<line x1="177.50" y1="304.10" x2="177.50" y2="381.00" stroke="#000" stroke-width="1.0"/>
<line x1="177.00" y1="380.50" x2="292.50" y2="380.50" stroke="#000" stroke-width="1.0"/>
<line x1="175.50" y1="380.50" x2="177.50" y2="380.50" stroke="#000" stroke-width="0.8"/>
<text x="174.90" y="382.60" font-size="5.8" text-anchor="end" font-weight="bold">0.0</text>
<line x1="175.50" y1="361.50" x2="177.50" y2="361.50" stroke="#000" stroke-width="0.8"/>
<text x="174.90" y="363.60" font-size="5.8" text-anchor="end" font-weight="bold">0.5</text>
<line x1="175.50" y1="342.50" x2="177.50" y2="342.50" stroke="#000" stroke-width="0.8"/>
<text x="174.90" y="344.60" font-size="5.8" text-anchor="end" font-weight="bold">1.0</text>
<line x1="175.50" y1="323.50" x2="177.50" y2="323.50" stroke="#000" stroke-width="0.8"/>
<text x="174.90" y="325.60" font-size="5.8" text-anchor="end" font-weight="bold">1.5</text>
<line x1="175.50" y1="304.50" x2="177.50" y2="304.50" stroke="#000" stroke-width="0.8"/>
<text x="174.90" y="306.60" font-size="5.8" text-anchor="end" font-weight="bold">2.0</text>
<line x1="177.50" y1="380.50" x2="177.50" y2="382.50" stroke="#000" stroke-width="0.8"/>
<text x="177.50" y="390.40" font-size="6.2" text-anchor="middle" font-weight="bold">0</text>
<line x1="200.50" y1="380.50" x2="200.50" y2="382.50" stroke="#000" stroke-width="0.8"/>
<text x="200.50" y="390.40" font-size="6.2" text-anchor="middle" font-weight="bold">20</text>
<line x1="223.50" y1="380.50" x2="223.50" y2="382.50" stroke="#000" stroke-width="0.8"/>
<text x="223.50" y="390.40" font-size="6.2" text-anchor="middle" font-weight="bold">40</text>
<line x1="246.50" y1="380.50" x2="246.50" y2="382.50" stroke="#000" stroke-width="0.8"/>
<text x="246.50" y="390.40" font-size="6.2" text-anchor="middle" font-weight="bold">60</text>
<line x1="269.50" y1="380.50" x2="269.50" y2="382.50" stroke="#000" stroke-width="0.8"/>
<text x="269.50" y="390.40" font-size="6.2" text-anchor="middle" font-weight="bold">80</text>
<line x1="292.50" y1="380.50" x2="292.50" y2="382.50" stroke="#000" stroke-width="0.8"/>
<text x="292.50" y="390.40" font-size="6.2" text-anchor="middle" font-weight="bold">100</text>
<text x="234.10" y="400.50" font-size="7.3" text-anchor="middle" font-weight="bold" textLength="56.60" lengthAdjust="spacingAndGlyphs">Days after implant</text>
<text x="162.40" y="343.50" font-size="7.0" text-anchor="middle" font-weight="bold" textLength="65.50" lengthAdjust="spacingAndGlyphs" transform="rotate(-90 162.40 343.50)">Tumor volume (cm<tspan font-size="4.5" dy="-2.5">3</tspan><tspan dy="2.5">)</tspan></text>
<text x="240.60" y="298.80" font-size="10.4" text-anchor="middle" font-weight="bold" textLength="59.20" lengthAdjust="spacingAndGlyphs">Vehicle + RT</text>
<text x="232.40" y="376.60" font-size="10.4" text-anchor="start" font-weight="bold" textLength="66.30" lengthAdjust="spacingAndGlyphs">No tumor 0/12</text>
<line x1="22.00" y1="424.00" x2="22.00" y2="500.70" stroke="#000" stroke-width="1.0"/>
<line x1="21.50" y1="500.20" x2="136.30" y2="500.20" stroke="#000" stroke-width="1.0"/>
<line x1="20.00" y1="500.20" x2="22.00" y2="500.20" stroke="#000" stroke-width="0.8"/>
<text x="19.40" y="502.30" font-size="5.8" text-anchor="end" font-weight="bold">0.0</text>
<line x1="20.00" y1="481.25" x2="22.00" y2="481.25" stroke="#000" stroke-width="0.8"/>
<text x="19.40" y="483.35" font-size="5.8" text-anchor="end" font-weight="bold">0.5</text>
<line x1="20.00" y1="462.30" x2="22.00" y2="462.30" stroke="#000" stroke-width="0.8"/>
<text x="19.40" y="464.40" font-size="5.8" text-anchor="end" font-weight="bold">1.0</text>
<line x1="20.00" y1="443.35" x2="22.00" y2="443.35" stroke="#000" stroke-width="0.8"/>
<text x="19.40" y="445.45" font-size="5.8" text-anchor="end" font-weight="bold">1.5</text>
<line x1="20.00" y1="424.40" x2="22.00" y2="424.40" stroke="#000" stroke-width="0.8"/>
<text x="19.40" y="426.50" font-size="5.8" text-anchor="end" font-weight="bold">2.0</text>
<line x1="22.00" y1="500.20" x2="22.00" y2="502.20" stroke="#000" stroke-width="0.8"/>
<text x="22.00" y="510.10" font-size="6.2" text-anchor="middle" font-weight="bold">0</text>
<line x1="44.86" y1="500.20" x2="44.86" y2="502.20" stroke="#000" stroke-width="0.8"/>
<text x="44.86" y="510.10" font-size="6.2" text-anchor="middle" font-weight="bold">20</text>
<line x1="67.72" y1="500.20" x2="67.72" y2="502.20" stroke="#000" stroke-width="0.8"/>
<text x="67.72" y="510.10" font-size="6.2" text-anchor="middle" font-weight="bold">40</text>
<line x1="90.58" y1="500.20" x2="90.58" y2="502.20" stroke="#000" stroke-width="0.8"/>
<text x="90.58" y="510.10" font-size="6.2" text-anchor="middle" font-weight="bold">60</text>
<line x1="113.44" y1="500.20" x2="113.44" y2="502.20" stroke="#000" stroke-width="0.8"/>
<text x="113.44" y="510.10" font-size="6.2" text-anchor="middle" font-weight="bold">80</text>
<line x1="136.30" y1="500.20" x2="136.30" y2="502.20" stroke="#000" stroke-width="0.8"/>
<text x="136.30" y="510.10" font-size="6.2" text-anchor="middle" font-weight="bold">100</text>
<text x="78.10" y="518.80" font-size="7.3" text-anchor="middle" font-weight="bold" textLength="56.60" lengthAdjust="spacingAndGlyphs">Days after implant</text>
<text x="7.00" y="463.30" font-size="7.0" text-anchor="middle" font-weight="bold" textLength="65.50" lengthAdjust="spacingAndGlyphs" transform="rotate(-90 7.00 463.30)">Tumor volume (cm<tspan font-size="4.5" dy="-2.5">3</tspan><tspan dy="2.5">)</tspan></text>
<text x="79.80" y="421.70" font-size="10.4" text-anchor="middle" font-weight="bold" textLength="69.20" lengthAdjust="spacingAndGlyphs">AZD7648 + RT</text>
<text x="66.80" y="493.60" font-size="10.4" text-anchor="start" font-weight="bold" textLength="69.60" lengthAdjust="spacingAndGlyphs">No tumor 11/11</text>
<line x1="178.70" y1="422.60" x2="178.70" y2="499.20" stroke="#000" stroke-width="1.0"/>
<line x1="178.20" y1="498.70" x2="292.50" y2="498.70" stroke="#000" stroke-width="1.0"/>
<line x1="176.70" y1="498.70" x2="178.70" y2="498.70" stroke="#000" stroke-width="0.8"/>
<text x="176.10" y="500.80" font-size="5.8" text-anchor="end" font-weight="bold">0.0</text>
<line x1="176.70" y1="479.77" x2="178.70" y2="479.77" stroke="#000" stroke-width="0.8"/>
<text x="176.10" y="481.88" font-size="5.8" text-anchor="end" font-weight="bold">0.5</text>
<line x1="176.70" y1="460.85" x2="178.70" y2="460.85" stroke="#000" stroke-width="0.8"/>
<text x="176.10" y="462.95" font-size="5.8" text-anchor="end" font-weight="bold">1.0</text>
<line x1="176.70" y1="441.93" x2="178.70" y2="441.93" stroke="#000" stroke-width="0.8"/>
<text x="176.10" y="444.03" font-size="5.8" text-anchor="end" font-weight="bold">1.5</text>
<line x1="176.70" y1="423.00" x2="178.70" y2="423.00" stroke="#000" stroke-width="0.8"/>
<text x="176.10" y="425.10" font-size="5.8" text-anchor="end" font-weight="bold">2.0</text>
<line x1="178.70" y1="498.70" x2="178.70" y2="500.70" stroke="#000" stroke-width="0.8"/>
<text x="178.70" y="508.60" font-size="6.2" text-anchor="middle" font-weight="bold">0</text>
<line x1="201.46" y1="498.70" x2="201.46" y2="500.70" stroke="#000" stroke-width="0.8"/>
<text x="201.46" y="508.60" font-size="6.2" text-anchor="middle" font-weight="bold">20</text>
<line x1="224.22" y1="498.70" x2="224.22" y2="500.70" stroke="#000" stroke-width="0.8"/>
<text x="224.22" y="508.60" font-size="6.2" text-anchor="middle" font-weight="bold">40</text>
<line x1="246.98" y1="498.70" x2="246.98" y2="500.70" stroke="#000" stroke-width="0.8"/>
<text x="246.98" y="508.60" font-size="6.2" text-anchor="middle" font-weight="bold">60</text>
<line x1="269.74" y1="498.70" x2="269.74" y2="500.70" stroke="#000" stroke-width="0.8"/>
<text x="269.74" y="508.60" font-size="6.2" text-anchor="middle" font-weight="bold">80</text>
<line x1="292.50" y1="498.70" x2="292.50" y2="500.70" stroke="#000" stroke-width="0.8"/>
<text x="292.50" y="508.60" font-size="6.2" text-anchor="middle" font-weight="bold">100</text>
<text x="234.30" y="517.90" font-size="7.3" text-anchor="middle" font-weight="bold" textLength="56.60" lengthAdjust="spacingAndGlyphs">Days after implant</text>
<text x="163.00" y="461.85" font-size="7.0" text-anchor="middle" font-weight="bold" textLength="65.50" lengthAdjust="spacingAndGlyphs" transform="rotate(-90 163.00 461.85)">Tumor volume (cm<tspan font-size="4.5" dy="-2.5">3</tspan><tspan dy="2.5">)</tspan></text>
<text x="188.00" y="423.00" font-size="10.4" text-anchor="start" font-weight="bold" textLength="124.60" lengthAdjust="spacingAndGlyphs">AZD7648 + RT + &#945;IFN&#945;R1</text>
<text x="249.00" y="492.30" font-size="10.4" text-anchor="start" font-weight="bold" textLength="58.80" lengthAdjust="spacingAndGlyphs">No tumor 2/9</text>
<text x="308.60" y="292.30" font-size="12.8" text-anchor="start" font-weight="bold" stroke-width="0.4">D</text>
<line x1="355.60" y1="291.50" x2="355.60" y2="405.70" stroke="#000" stroke-width="1.3"/>
<line x1="355.00" y1="401.50" x2="469.80" y2="401.50" stroke="#000" stroke-width="1.3"/>
<line x1="351.60" y1="401.50" x2="355.60" y2="401.50" stroke="#000" stroke-width="1.1"/>
<text x="349.20" y="404.40" font-size="8.1" text-anchor="end" font-weight="bold">0</text>
<line x1="351.60" y1="379.62" x2="355.60" y2="379.62" stroke="#000" stroke-width="1.1"/>
<text x="349.20" y="382.52" font-size="8.1" text-anchor="end" font-weight="bold">20</text>
<line x1="351.60" y1="357.74" x2="355.60" y2="357.74" stroke="#000" stroke-width="1.1"/>
<text x="349.20" y="360.64" font-size="8.1" text-anchor="end" font-weight="bold">40</text>
<line x1="351.60" y1="335.86" x2="355.60" y2="335.86" stroke="#000" stroke-width="1.1"/>
<text x="349.20" y="338.76" font-size="8.1" text-anchor="end" font-weight="bold">60</text>
<line x1="351.60" y1="313.98" x2="355.60" y2="313.98" stroke="#000" stroke-width="1.1"/>
<text x="349.20" y="316.88" font-size="8.1" text-anchor="end" font-weight="bold">80</text>
<line x1="351.60" y1="292.10" x2="355.60" y2="292.10" stroke="#000" stroke-width="1.1"/>
<text x="349.20" y="295.00" font-size="8.1" text-anchor="end" font-weight="bold">100</text>
<line x1="355.60" y1="401.50" x2="355.60" y2="405.50" stroke="#000" stroke-width="1.1"/>
<text x="355.90" y="415.90" font-size="8.1" text-anchor="middle" font-weight="bold">0</text>
<line x1="378.32" y1="401.50" x2="378.32" y2="405.50" stroke="#000" stroke-width="1.1"/>
<text x="378.62" y="415.90" font-size="8.1" text-anchor="middle" font-weight="bold">20</text>
<line x1="401.04" y1="401.50" x2="401.04" y2="405.50" stroke="#000" stroke-width="1.1"/>
<text x="401.34" y="415.90" font-size="8.1" text-anchor="middle" font-weight="bold">40</text>
<line x1="423.76" y1="401.50" x2="423.76" y2="405.50" stroke="#000" stroke-width="1.1"/>
<text x="424.06" y="415.90" font-size="8.1" text-anchor="middle" font-weight="bold">60</text>
<line x1="446.48" y1="401.50" x2="446.48" y2="405.50" stroke="#000" stroke-width="1.1"/>
<text x="446.78" y="415.90" font-size="8.1" text-anchor="middle" font-weight="bold">80</text>
<line x1="469.20" y1="401.50" x2="469.20" y2="405.50" stroke="#000" stroke-width="1.1"/>
<text x="469.50" y="415.90" font-size="8.1" text-anchor="middle" font-weight="bold">100</text>
<text x="330.40" y="343.70" font-size="10.2" text-anchor="middle" font-weight="bold" textLength="73.50" lengthAdjust="spacingAndGlyphs" transform="rotate(-90 330.40 343.70)">Percent survival</text>
<text x="413.40" y="430.20" font-size="9.9" text-anchor="middle" font-weight="bold" textLength="79.60" lengthAdjust="spacingAndGlyphs">Days after implant</text>
<polyline points="22.50,380.50 25.88,372.35 28.12,365.68 30.38,354.56 34.54,323.81" fill="none" stroke="#000" stroke-width="0.8" stroke-linejoin="round"/>
<polyline points="22.50,380.50 25.88,373.83 28.12,369.38 30.38,360.12 33.75,347.15 37.58,331.59" fill="none" stroke="#000" stroke-width="0.8" stroke-linejoin="round"/>
<polyline points="22.50,380.50 25.88,374.94 28.12,370.13 30.38,363.83 33.75,350.86 38.14,335.67" fill="none" stroke="#000" stroke-width="0.8" stroke-linejoin="round"/>
<polyline points="22.50,380.50 25.88,376.05 29.25,369.38 31.50,361.98 34.88,352.71 38.81,343.82" fill="none" stroke="#000" stroke-width="0.8" stroke-linejoin="round"/>
<polyline points="22.50,380.50 25.88,373.09 28.12,367.53 31.50,356.42 34.88,339.75" fill="none" stroke="#000" stroke-width="0.8" stroke-linejoin="round"/>
<polyline points="22.50,380.50 25.88,371.24 28.12,363.83 30.38,358.27 32.62,349.01 36.00,337.89" fill="none" stroke="#000" stroke-width="0.8" stroke-linejoin="round"/>
<polyline points="22.50,380.50 27.00,373.09 29.25,367.53 32.62,358.27 36.00,345.30 38.25,336.04" fill="none" stroke="#000" stroke-width="0.8" stroke-linejoin="round"/>
<polyline points="22.50,380.50 25.88,376.80 29.25,371.24 32.62,361.98 36.00,349.01 38.25,339.75" fill="none" stroke="#000" stroke-width="0.8" stroke-linejoin="round"/>
<polyline points="22.50,380.50 25.88,369.38 28.12,361.98 30.38,352.71 33.75,341.60" fill="none" stroke="#000" stroke-width="0.8" stroke-linejoin="round"/>
<polyline points="22.50,380.50 27.00,374.94 30.38,365.68 33.75,354.56 37.12,343.45" fill="none" stroke="#000" stroke-width="0.8" stroke-linejoin="round"/>
<polyline points="22.50,380.50 25.88,373.09 29.25,365.68 32.62,354.56 36.00,341.60" fill="none" stroke="#000" stroke-width="0.8" stroke-linejoin="round"/>
<polyline points="22.50,380.50 27.00,371.24 30.38,361.98 33.75,350.86 37.12,334.19" fill="none" stroke="#000" stroke-width="0.8" stroke-linejoin="round"/>
<circle cx="22.50" cy="380.50" r="1.70" fill="#000" stroke="#000" stroke-width="0.7"/>
<circle cx="25.88" cy="372.35" r="1.70" fill="#000" stroke="#000" stroke-width="0.7"/>
<circle cx="28.12" cy="365.68" r="1.70" fill="#000" stroke="#000" stroke-width="0.7"/>
<circle cx="30.38" cy="354.56" r="1.70" fill="#000" stroke="#000" stroke-width="0.7"/>
<circle cx="34.54" cy="323.81" r="1.70" fill="#000" stroke="#000" stroke-width="0.7"/>
<circle cx="22.50" cy="380.50" r="1.70" fill="#000" stroke="#000" stroke-width="0.7"/>
<circle cx="25.88" cy="373.83" r="1.70" fill="#000" stroke="#000" stroke-width="0.7"/>
<circle cx="28.12" cy="369.38" r="1.70" fill="#000" stroke="#000" stroke-width="0.7"/>
<circle cx="30.38" cy="360.12" r="1.70" fill="#000" stroke="#000" stroke-width="0.7"/>
<circle cx="33.75" cy="347.15" r="1.70" fill="#000" stroke="#000" stroke-width="0.7"/>
<circle cx="37.58" cy="331.59" r="1.70" fill="#000" stroke="#000" stroke-width="0.7"/>
<circle cx="22.50" cy="380.50" r="1.70" fill="#000" stroke="#000" stroke-width="0.7"/>
<circle cx="25.88" cy="374.94" r="1.70" fill="#000" stroke="#000" stroke-width="0.7"/>
<circle cx="28.12" cy="370.13" r="1.70" fill="#000" stroke="#000" stroke-width="0.7"/>
<circle cx="30.38" cy="363.83" r="1.70" fill="#000" stroke="#000" stroke-width="0.7"/>
<circle cx="33.75" cy="350.86" r="1.70" fill="#000" stroke="#000" stroke-width="0.7"/>
<circle cx="38.14" cy="335.67" r="1.70" fill="#000" stroke="#000" stroke-width="0.7"/>
<circle cx="22.50" cy="380.50" r="1.70" fill="#000" stroke="#000" stroke-width="0.7"/>
<circle cx="25.88" cy="376.05" r="1.70" fill="#000" stroke="#000" stroke-width="0.7"/>
<circle cx="29.25" cy="369.38" r="1.70" fill="#000" stroke="#000" stroke-width="0.7"/>
<circle cx="31.50" cy="361.98" r="1.70" fill="#000" stroke="#000" stroke-width="0.7"/>
<circle cx="34.88" cy="352.71" r="1.70" fill="#000" stroke="#000" stroke-width="0.7"/>
<circle cx="38.81" cy="343.82" r="1.70" fill="#000" stroke="#000" stroke-width="0.7"/>
<circle cx="22.50" cy="380.50" r="1.70" fill="#000" stroke="#000" stroke-width="0.7"/>
<circle cx="25.88" cy="373.09" r="1.70" fill="#000" stroke="#000" stroke-width="0.7"/>
<circle cx="28.12" cy="367.53" r="1.70" fill="#000" stroke="#000" stroke-width="0.7"/>
<circle cx="31.50" cy="356.42" r="1.70" fill="#000" stroke="#000" stroke-width="0.7"/>
<circle cx="34.88" cy="339.75" r="1.70" fill="#000" stroke="#000" stroke-width="0.7"/>
<circle cx="22.50" cy="380.50" r="1.70" fill="#000" stroke="#000" stroke-width="0.7"/>
<circle cx="25.88" cy="371.24" r="1.70" fill="#000" stroke="#000" stroke-width="0.7"/>
<circle cx="28.12" cy="363.83" r="1.70" fill="#000" stroke="#000" stroke-width="0.7"/>
<circle cx="30.38" cy="358.27" r="1.70" fill="#000" stroke="#000" stroke-width="0.7"/>
<circle cx="32.62" cy="349.01" r="1.70" fill="#000" stroke="#000" stroke-width="0.7"/>
<circle cx="36.00" cy="337.89" r="1.70" fill="#000" stroke="#000" stroke-width="0.7"/>
<circle cx="22.50" cy="380.50" r="1.70" fill="#000" stroke="#000" stroke-width="0.7"/>
<circle cx="27.00" cy="373.09" r="1.70" fill="#000" stroke="#000" stroke-width="0.7"/>
<circle cx="29.25" cy="367.53" r="1.70" fill="#000" stroke="#000" stroke-width="0.7"/>
<circle cx="32.62" cy="358.27" r="1.70" fill="#000" stroke="#000" stroke-width="0.7"/>
<circle cx="36.00" cy="345.30" r="1.70" fill="#000" stroke="#000" stroke-width="0.7"/>
<circle cx="38.25" cy="336.04" r="1.70" fill="#000" stroke="#000" stroke-width="0.7"/>
<circle cx="22.50" cy="380.50" r="1.70" fill="#000" stroke="#000" stroke-width="0.7"/>
<circle cx="25.88" cy="376.80" r="1.70" fill="#000" stroke="#000" stroke-width="0.7"/>
<circle cx="29.25" cy="371.24" r="1.70" fill="#000" stroke="#000" stroke-width="0.7"/>
<circle cx="32.62" cy="361.98" r="1.70" fill="#000" stroke="#000" stroke-width="0.7"/>
<circle cx="36.00" cy="349.01" r="1.70" fill="#000" stroke="#000" stroke-width="0.7"/>
<circle cx="38.25" cy="339.75" r="1.70" fill="#000" stroke="#000" stroke-width="0.7"/>
<circle cx="22.50" cy="380.50" r="1.70" fill="#000" stroke="#000" stroke-width="0.7"/>
<circle cx="25.88" cy="369.38" r="1.70" fill="#000" stroke="#000" stroke-width="0.7"/>
<circle cx="28.12" cy="361.98" r="1.70" fill="#000" stroke="#000" stroke-width="0.7"/>
<circle cx="30.38" cy="352.71" r="1.70" fill="#000" stroke="#000" stroke-width="0.7"/>
<circle cx="33.75" cy="341.60" r="1.70" fill="#000" stroke="#000" stroke-width="0.7"/>
<circle cx="22.50" cy="380.50" r="1.70" fill="#000" stroke="#000" stroke-width="0.7"/>
<circle cx="27.00" cy="374.94" r="1.70" fill="#000" stroke="#000" stroke-width="0.7"/>
<circle cx="30.38" cy="365.68" r="1.70" fill="#000" stroke="#000" stroke-width="0.7"/>
<circle cx="33.75" cy="354.56" r="1.70" fill="#000" stroke="#000" stroke-width="0.7"/>
<circle cx="37.12" cy="343.45" r="1.70" fill="#000" stroke="#000" stroke-width="0.7"/>
<circle cx="22.50" cy="380.50" r="1.70" fill="#000" stroke="#000" stroke-width="0.7"/>
<circle cx="25.88" cy="373.09" r="1.70" fill="#000" stroke="#000" stroke-width="0.7"/>
<circle cx="29.25" cy="365.68" r="1.70" fill="#000" stroke="#000" stroke-width="0.7"/>
<circle cx="32.62" cy="354.56" r="1.70" fill="#000" stroke="#000" stroke-width="0.7"/>
<circle cx="36.00" cy="341.60" r="1.70" fill="#000" stroke="#000" stroke-width="0.7"/>
<circle cx="22.50" cy="380.50" r="1.70" fill="#000" stroke="#000" stroke-width="0.7"/>
<circle cx="27.00" cy="371.24" r="1.70" fill="#000" stroke="#000" stroke-width="0.7"/>
<circle cx="30.38" cy="361.98" r="1.70" fill="#000" stroke="#000" stroke-width="0.7"/>
<circle cx="33.75" cy="350.86" r="1.70" fill="#000" stroke="#000" stroke-width="0.7"/>
<circle cx="37.12" cy="334.19" r="1.70" fill="#000" stroke="#000" stroke-width="0.7"/>
<polyline points="177.50,380.50 180.95,371.00 183.25,369.86 185.55,369.10 189.00,372.90 193.60,374.80 197.05,372.90 201.65,369.10 205.10,363.40 208.55,355.80 210.85,346.30 213.61,329.96" fill="none" stroke="#000" stroke-width="1.1" stroke-linejoin="round"/>
<polyline points="177.50,380.50 180.95,372.90 183.25,369.10 185.55,371.00 189.00,369.10 193.60,365.30 197.05,357.70 200.50,350.10 204.87,337.94" fill="none" stroke="#000" stroke-width="1.1" stroke-linejoin="round"/>
<polyline points="177.50,380.50 180.95,372.14 183.25,371.00 186.70,369.10 190.15,371.00 193.60,369.10 197.05,363.40 200.50,357.70 203.95,350.10 206.82,342.50" fill="none" stroke="#000" stroke-width="1.1" stroke-linejoin="round"/>
<polyline points="177.50,380.50 180.95,371.00 183.25,368.34 186.70,367.20 190.15,365.30 193.60,359.60 197.05,352.00 200.62,341.36" fill="none" stroke="#000" stroke-width="1.1" stroke-linejoin="round"/>
<polyline points="177.50,380.50 180.95,372.90 184.40,369.10 187.85,367.20 191.30,363.40 194.75,357.70 199.12,344.02" fill="none" stroke="#000" stroke-width="1.1" stroke-linejoin="round"/>
<polyline points="177.50,380.50 180.95,373.66 184.40,372.14 187.85,372.90 191.30,375.94 194.75,376.70 198.20,374.80 201.65,372.90 205.10,369.10 208.55,363.40 210.85,357.70 213.61,345.54" fill="none" stroke="#000" stroke-width="1.1" stroke-linejoin="round"/>
<polyline points="177.50,380.50 180.95,372.90 184.40,371.00 187.85,372.90 191.30,374.80 194.75,372.90 198.20,371.00 201.65,367.20 205.10,363.40 207.40,357.70 210.05,351.62" fill="none" stroke="#000" stroke-width="1.1" stroke-linejoin="round"/>
<polyline points="177.50,380.50 180.95,374.80 184.40,371.00 187.85,369.10 191.30,372.90 194.75,371.00 198.20,369.10 201.65,367.20 205.10,363.40 209.01,355.80" fill="none" stroke="#000" stroke-width="1.1" stroke-linejoin="round"/>
<polyline points="177.50,380.50 180.95,371.00 183.25,367.20 186.70,369.10 190.15,365.30 193.60,359.60 197.05,352.00" fill="none" stroke="#000" stroke-width="1.1" stroke-linejoin="round"/>
<polyline points="177.50,380.50 180.95,369.10 183.25,367.20 185.55,365.30 189.00,363.40 191.30,361.50 193.94,358.46" fill="none" stroke="#000" stroke-width="1.1" stroke-linejoin="round"/>
<polyline points="177.50,380.50 180.95,374.80 184.40,372.90 187.85,374.80 191.30,376.70 194.75,375.94 198.20,372.90 201.65,369.10 205.10,365.30 207.40,359.60" fill="none" stroke="#000" stroke-width="1.1" stroke-linejoin="round"/>
<polyline points="177.50,380.50 180.95,372.90 184.40,369.10 187.85,371.00 191.30,369.10 194.75,367.20 198.20,361.50 201.65,355.80 205.10,348.20" fill="none" stroke="#000" stroke-width="1.1" stroke-linejoin="round"/>
<rect x="176.15" y="379.15" width="2.70" height="2.70" fill="#444" stroke="#000" stroke-width="0.9"/>
<rect x="179.60" y="369.65" width="2.70" height="2.70" fill="#444" stroke="#000" stroke-width="0.9"/>
<rect x="181.90" y="368.51" width="2.70" height="2.70" fill="#444" stroke="#000" stroke-width="0.9"/>
<rect x="184.20" y="367.75" width="2.70" height="2.70" fill="#444" stroke="#000" stroke-width="0.9"/>
<rect x="187.65" y="371.55" width="2.70" height="2.70" fill="#444" stroke="#000" stroke-width="0.9"/>
<rect x="192.25" y="373.45" width="2.70" height="2.70" fill="#444" stroke="#000" stroke-width="0.9"/>
<rect x="195.70" y="371.55" width="2.70" height="2.70" fill="#444" stroke="#000" stroke-width="0.9"/>
<rect x="200.30" y="367.75" width="2.70" height="2.70" fill="#444" stroke="#000" stroke-width="0.9"/>
<rect x="203.75" y="362.05" width="2.70" height="2.70" fill="#444" stroke="#000" stroke-width="0.9"/>
<rect x="207.20" y="354.45" width="2.70" height="2.70" fill="#444" stroke="#000" stroke-width="0.9"/>
<rect x="209.50" y="344.95" width="2.70" height="2.70" fill="#444" stroke="#000" stroke-width="0.9"/>
<rect x="212.26" y="328.61" width="2.70" height="2.70" fill="#444" stroke="#000" stroke-width="0.9"/>
<rect x="176.15" y="379.15" width="2.70" height="2.70" fill="#444" stroke="#000" stroke-width="0.9"/>
<rect x="179.60" y="371.55" width="2.70" height="2.70" fill="#444" stroke="#000" stroke-width="0.9"/>
<rect x="181.90" y="367.75" width="2.70" height="2.70" fill="#444" stroke="#000" stroke-width="0.9"/>
<rect x="184.20" y="369.65" width="2.70" height="2.70" fill="#444" stroke="#000" stroke-width="0.9"/>
<rect x="187.65" y="367.75" width="2.70" height="2.70" fill="#444" stroke="#000" stroke-width="0.9"/>
<rect x="192.25" y="363.95" width="2.70" height="2.70" fill="#444" stroke="#000" stroke-width="0.9"/>
<rect x="195.70" y="356.35" width="2.70" height="2.70" fill="#444" stroke="#000" stroke-width="0.9"/>
<rect x="199.15" y="348.75" width="2.70" height="2.70" fill="#444" stroke="#000" stroke-width="0.9"/>
<rect x="203.52" y="336.59" width="2.70" height="2.70" fill="#444" stroke="#000" stroke-width="0.9"/>
<rect x="176.15" y="379.15" width="2.70" height="2.70" fill="#444" stroke="#000" stroke-width="0.9"/>
<rect x="179.60" y="370.79" width="2.70" height="2.70" fill="#444" stroke="#000" stroke-width="0.9"/>
<rect x="181.90" y="369.65" width="2.70" height="2.70" fill="#444" stroke="#000" stroke-width="0.9"/>
<rect x="185.35" y="367.75" width="2.70" height="2.70" fill="#444" stroke="#000" stroke-width="0.9"/>
<rect x="188.80" y="369.65" width="2.70" height="2.70" fill="#444" stroke="#000" stroke-width="0.9"/>
<rect x="192.25" y="367.75" width="2.70" height="2.70" fill="#444" stroke="#000" stroke-width="0.9"/>
<rect x="195.70" y="362.05" width="2.70" height="2.70" fill="#444" stroke="#000" stroke-width="0.9"/>
<rect x="199.15" y="356.35" width="2.70" height="2.70" fill="#444" stroke="#000" stroke-width="0.9"/>
<rect x="202.60" y="348.75" width="2.70" height="2.70" fill="#444" stroke="#000" stroke-width="0.9"/>
<rect x="205.47" y="341.15" width="2.70" height="2.70" fill="#444" stroke="#000" stroke-width="0.9"/>
<rect x="176.15" y="379.15" width="2.70" height="2.70" fill="#444" stroke="#000" stroke-width="0.9"/>
<rect x="179.60" y="369.65" width="2.70" height="2.70" fill="#444" stroke="#000" stroke-width="0.9"/>
<rect x="181.90" y="366.99" width="2.70" height="2.70" fill="#444" stroke="#000" stroke-width="0.9"/>
<rect x="185.35" y="365.85" width="2.70" height="2.70" fill="#444" stroke="#000" stroke-width="0.9"/>
<rect x="188.80" y="363.95" width="2.70" height="2.70" fill="#444" stroke="#000" stroke-width="0.9"/>
<rect x="192.25" y="358.25" width="2.70" height="2.70" fill="#444" stroke="#000" stroke-width="0.9"/>
<rect x="195.70" y="350.65" width="2.70" height="2.70" fill="#444" stroke="#000" stroke-width="0.9"/>
<rect x="199.27" y="340.01" width="2.70" height="2.70" fill="#444" stroke="#000" stroke-width="0.9"/>
<rect x="176.15" y="379.15" width="2.70" height="2.70" fill="#444" stroke="#000" stroke-width="0.9"/>
<rect x="179.60" y="371.55" width="2.70" height="2.70" fill="#444" stroke="#000" stroke-width="0.9"/>
<rect x="183.05" y="367.75" width="2.70" height="2.70" fill="#444" stroke="#000" stroke-width="0.9"/>
<rect x="186.50" y="365.85" width="2.70" height="2.70" fill="#444" stroke="#000" stroke-width="0.9"/>
<rect x="189.95" y="362.05" width="2.70" height="2.70" fill="#444" stroke="#000" stroke-width="0.9"/>
<rect x="193.40" y="356.35" width="2.70" height="2.70" fill="#444" stroke="#000" stroke-width="0.9"/>
<rect x="197.77" y="342.67" width="2.70" height="2.70" fill="#444" stroke="#000" stroke-width="0.9"/>
<rect x="176.15" y="379.15" width="2.70" height="2.70" fill="#444" stroke="#000" stroke-width="0.9"/>
<rect x="179.60" y="372.31" width="2.70" height="2.70" fill="#444" stroke="#000" stroke-width="0.9"/>
<rect x="183.05" y="370.79" width="2.70" height="2.70" fill="#444" stroke="#000" stroke-width="0.9"/>
<rect x="186.50" y="371.55" width="2.70" height="2.70" fill="#444" stroke="#000" stroke-width="0.9"/>
<rect x="189.95" y="374.59" width="2.70" height="2.70" fill="#444" stroke="#000" stroke-width="0.9"/>
<rect x="193.40" y="375.35" width="2.70" height="2.70" fill="#444" stroke="#000" stroke-width="0.9"/>
<rect x="196.85" y="373.45" width="2.70" height="2.70" fill="#444" stroke="#000" stroke-width="0.9"/>
<rect x="200.30" y="371.55" width="2.70" height="2.70" fill="#444" stroke="#000" stroke-width="0.9"/>
<rect x="203.75" y="367.75" width="2.70" height="2.70" fill="#444" stroke="#000" stroke-width="0.9"/>
<rect x="207.20" y="362.05" width="2.70" height="2.70" fill="#444" stroke="#000" stroke-width="0.9"/>
<rect x="209.50" y="356.35" width="2.70" height="2.70" fill="#444" stroke="#000" stroke-width="0.9"/>
<rect x="212.26" y="344.19" width="2.70" height="2.70" fill="#444" stroke="#000" stroke-width="0.9"/>
<rect x="176.15" y="379.15" width="2.70" height="2.70" fill="#444" stroke="#000" stroke-width="0.9"/>
<rect x="179.60" y="371.55" width="2.70" height="2.70" fill="#444" stroke="#000" stroke-width="0.9"/>
<rect x="183.05" y="369.65" width="2.70" height="2.70" fill="#444" stroke="#000" stroke-width="0.9"/>
<rect x="186.50" y="371.55" width="2.70" height="2.70" fill="#444" stroke="#000" stroke-width="0.9"/>
<rect x="189.95" y="373.45" width="2.70" height="2.70" fill="#444" stroke="#000" stroke-width="0.9"/>
<rect x="193.40" y="371.55" width="2.70" height="2.70" fill="#444" stroke="#000" stroke-width="0.9"/>
<rect x="196.85" y="369.65" width="2.70" height="2.70" fill="#444" stroke="#000" stroke-width="0.9"/>
<rect x="200.30" y="365.85" width="2.70" height="2.70" fill="#444" stroke="#000" stroke-width="0.9"/>
<rect x="203.75" y="362.05" width="2.70" height="2.70" fill="#444" stroke="#000" stroke-width="0.9"/>
<rect x="206.05" y="356.35" width="2.70" height="2.70" fill="#444" stroke="#000" stroke-width="0.9"/>
<rect x="208.70" y="350.27" width="2.70" height="2.70" fill="#444" stroke="#000" stroke-width="0.9"/>
<rect x="176.15" y="379.15" width="2.70" height="2.70" fill="#444" stroke="#000" stroke-width="0.9"/>
<rect x="179.60" y="373.45" width="2.70" height="2.70" fill="#444" stroke="#000" stroke-width="0.9"/>
<rect x="183.05" y="369.65" width="2.70" height="2.70" fill="#444" stroke="#000" stroke-width="0.9"/>
<rect x="186.50" y="367.75" width="2.70" height="2.70" fill="#444" stroke="#000" stroke-width="0.9"/>
<rect x="189.95" y="371.55" width="2.70" height="2.70" fill="#444" stroke="#000" stroke-width="0.9"/>
<rect x="193.40" y="369.65" width="2.70" height="2.70" fill="#444" stroke="#000" stroke-width="0.9"/>
<rect x="196.85" y="367.75" width="2.70" height="2.70" fill="#444" stroke="#000" stroke-width="0.9"/>
<rect x="200.30" y="365.85" width="2.70" height="2.70" fill="#444" stroke="#000" stroke-width="0.9"/>
<rect x="203.75" y="362.05" width="2.70" height="2.70" fill="#444" stroke="#000" stroke-width="0.9"/>
<rect x="207.66" y="354.45" width="2.70" height="2.70" fill="#444" stroke="#000" stroke-width="0.9"/>
<rect x="176.15" y="379.15" width="2.70" height="2.70" fill="#444" stroke="#000" stroke-width="0.9"/>
<rect x="179.60" y="369.65" width="2.70" height="2.70" fill="#444" stroke="#000" stroke-width="0.9"/>
<rect x="181.90" y="365.85" width="2.70" height="2.70" fill="#444" stroke="#000" stroke-width="0.9"/>
<rect x="185.35" y="367.75" width="2.70" height="2.70" fill="#444" stroke="#000" stroke-width="0.9"/>
<rect x="188.80" y="363.95" width="2.70" height="2.70" fill="#444" stroke="#000" stroke-width="0.9"/>
<rect x="192.25" y="358.25" width="2.70" height="2.70" fill="#444" stroke="#000" stroke-width="0.9"/>
<rect x="195.70" y="350.65" width="2.70" height="2.70" fill="#444" stroke="#000" stroke-width="0.9"/>
<rect x="176.15" y="379.15" width="2.70" height="2.70" fill="#444" stroke="#000" stroke-width="0.9"/>
<rect x="179.60" y="367.75" width="2.70" height="2.70" fill="#444" stroke="#000" stroke-width="0.9"/>
<rect x="181.90" y="365.85" width="2.70" height="2.70" fill="#444" stroke="#000" stroke-width="0.9"/>
<rect x="184.20" y="363.95" width="2.70" height="2.70" fill="#444" stroke="#000" stroke-width="0.9"/>
<rect x="187.65" y="362.05" width="2.70" height="2.70" fill="#444" stroke="#000" stroke-width="0.9"/>
<rect x="189.95" y="360.15" width="2.70" height="2.70" fill="#444" stroke="#000" stroke-width="0.9"/>
<rect x="192.59" y="357.11" width="2.70" height="2.70" fill="#444" stroke="#000" stroke-width="0.9"/>
<rect x="176.15" y="379.15" width="2.70" height="2.70" fill="#444" stroke="#000" stroke-width="0.9"/>
<rect x="179.60" y="373.45" width="2.70" height="2.70" fill="#444" stroke="#000" stroke-width="0.9"/>
<rect x="183.05" y="371.55" width="2.70" height="2.70" fill="#444" stroke="#000" stroke-width="0.9"/>
<rect x="186.50" y="373.45" width="2.70" height="2.70" fill="#444" stroke="#000" stroke-width="0.9"/>
<rect x="189.95" y="375.35" width="2.70" height="2.70" fill="#444" stroke="#000" stroke-width="0.9"/>
<rect x="193.40" y="374.59" width="2.70" height="2.70" fill="#444" stroke="#000" stroke-width="0.9"/>
<rect x="196.85" y="371.55" width="2.70" height="2.70" fill="#444" stroke="#000" stroke-width="0.9"/>
<rect x="200.30" y="367.75" width="2.70" height="2.70" fill="#444" stroke="#000" stroke-width="0.9"/>
<rect x="203.75" y="363.95" width="2.70" height="2.70" fill="#444" stroke="#000" stroke-width="0.9"/>
<rect x="206.05" y="358.25" width="2.70" height="2.70" fill="#444" stroke="#000" stroke-width="0.9"/>
<rect x="176.15" y="379.15" width="2.70" height="2.70" fill="#444" stroke="#000" stroke-width="0.9"/>
<rect x="179.60" y="371.55" width="2.70" height="2.70" fill="#444" stroke="#000" stroke-width="0.9"/>
<rect x="183.05" y="367.75" width="2.70" height="2.70" fill="#444" stroke="#000" stroke-width="0.9"/>
<rect x="186.50" y="369.65" width="2.70" height="2.70" fill="#444" stroke="#000" stroke-width="0.9"/>
<rect x="189.95" y="367.75" width="2.70" height="2.70" fill="#444" stroke="#000" stroke-width="0.9"/>
<rect x="193.40" y="365.85" width="2.70" height="2.70" fill="#444" stroke="#000" stroke-width="0.9"/>
<rect x="196.85" y="360.15" width="2.70" height="2.70" fill="#444" stroke="#000" stroke-width="0.9"/>
<rect x="200.30" y="354.45" width="2.70" height="2.70" fill="#444" stroke="#000" stroke-width="0.9"/>
<rect x="203.75" y="346.85" width="2.70" height="2.70" fill="#444" stroke="#000" stroke-width="0.9"/>
<polyline points="22.00,500.20 24.29,495.14 26.00,492.38 27.71,491.00 29.43,491.46 31.14,493.76 33.43,495.60 36.29,497.25 39.14,498.36 42.00,499.28 45.20,499.82" fill="none" stroke="#000" stroke-width="0.8" stroke-linejoin="round"/>
<polyline points="22.00,500.20 24.29,493.99 26.00,490.60 27.71,488.91 29.43,489.47 31.14,492.30 33.43,494.55 36.29,496.59 39.14,497.94 42.00,499.07 45.20,499.82" fill="none" stroke="#000" stroke-width="0.8" stroke-linejoin="round"/>
<polyline points="22.00,500.20 24.29,494.64 26.00,491.61 27.71,490.10 29.43,490.60 31.14,493.13 33.43,495.15 36.29,496.97 39.14,498.18 42.00,499.19 45.20,499.82" fill="none" stroke="#000" stroke-width="0.8" stroke-linejoin="round"/>
<polyline points="22.00,500.20 24.29,493.77 26.00,490.26 27.71,488.50 29.43,489.09 31.14,492.01 33.43,494.35 36.29,496.46 39.14,497.86 42.00,499.03 45.20,499.82" fill="none" stroke="#000" stroke-width="0.8" stroke-linejoin="round"/>
<polyline points="22.00,500.20 24.29,493.68 26.00,490.13 27.71,488.35 29.43,488.94 31.14,491.91 33.43,494.28 36.29,496.41 39.14,497.83 42.00,499.02 45.20,499.82" fill="none" stroke="#000" stroke-width="0.8" stroke-linejoin="round"/>
<polyline points="22.00,500.20 24.29,495.79 26.00,493.38 27.71,492.17 29.43,492.57 31.14,494.58 33.43,496.19 36.29,497.63 39.14,498.59 42.00,499.40 45.20,499.82" fill="none" stroke="#000" stroke-width="0.8" stroke-linejoin="round"/>
<polyline points="22.00,500.20 24.29,495.98 26.00,493.68 27.71,492.53 29.43,492.91 31.14,494.83 33.43,496.37 36.29,497.75 39.14,498.67 42.00,499.43 45.20,499.82" fill="none" stroke="#000" stroke-width="0.8" stroke-linejoin="round"/>
<polyline points="22.00,500.20 24.29,492.89 26.00,488.90 27.71,486.91 29.43,487.57 31.14,490.89 33.43,493.55 36.29,495.95 39.14,497.54 42.00,498.87 45.20,499.82" fill="none" stroke="#000" stroke-width="0.8" stroke-linejoin="round"/>
<polyline points="22.00,500.20 24.29,495.06 26.00,492.25 27.71,490.85 29.43,491.32 31.14,493.66 33.43,495.53 36.29,497.21 39.14,498.33 42.00,499.27 45.20,499.82" fill="none" stroke="#000" stroke-width="0.8" stroke-linejoin="round"/>
<polyline points="22.00,500.20 24.29,495.15 26.00,492.40 27.71,491.02 29.43,491.48 31.14,493.77 33.43,495.61 36.29,497.26 39.14,498.36 42.00,499.28 45.20,499.82" fill="none" stroke="#000" stroke-width="0.8" stroke-linejoin="round"/>
<polyline points="22.00,500.20 24.29,492.30 26.00,487.98 27.71,485.83 29.43,486.55 31.14,490.14 33.43,493.01 36.29,495.60 39.14,497.33 42.00,498.76 45.20,499.82" fill="none" stroke="#000" stroke-width="0.8" stroke-linejoin="round"/>
<circle cx="22.00" cy="500.20" r="1.50" fill="#000" stroke="#000" stroke-width="0.7"/>
<circle cx="24.29" cy="495.14" r="1.50" fill="#000" stroke="#000" stroke-width="0.7"/>
<circle cx="26.00" cy="492.38" r="1.50" fill="#000" stroke="#000" stroke-width="0.7"/>
<circle cx="27.71" cy="491.00" r="1.50" fill="#000" stroke="#000" stroke-width="0.7"/>
<circle cx="29.43" cy="491.46" r="1.50" fill="#000" stroke="#000" stroke-width="0.7"/>
<circle cx="31.14" cy="493.76" r="1.50" fill="#000" stroke="#000" stroke-width="0.7"/>
<circle cx="33.43" cy="495.60" r="1.50" fill="#000" stroke="#000" stroke-width="0.7"/>
<circle cx="36.29" cy="497.25" r="1.50" fill="#000" stroke="#000" stroke-width="0.7"/>
<circle cx="39.14" cy="498.36" r="1.50" fill="#000" stroke="#000" stroke-width="0.7"/>
<circle cx="42.00" cy="499.28" r="1.50" fill="#000" stroke="#000" stroke-width="0.7"/>
<circle cx="45.20" cy="499.82" r="1.50" fill="#000" stroke="#000" stroke-width="0.7"/>
<circle cx="22.00" cy="500.20" r="1.50" fill="#000" stroke="#000" stroke-width="0.7"/>
<circle cx="24.29" cy="493.99" r="1.50" fill="#000" stroke="#000" stroke-width="0.7"/>
<circle cx="26.00" cy="490.60" r="1.50" fill="#000" stroke="#000" stroke-width="0.7"/>
<circle cx="27.71" cy="488.91" r="1.50" fill="#000" stroke="#000" stroke-width="0.7"/>
<circle cx="29.43" cy="489.47" r="1.50" fill="#000" stroke="#000" stroke-width="0.7"/>
<circle cx="31.14" cy="492.30" r="1.50" fill="#000" stroke="#000" stroke-width="0.7"/>
<circle cx="33.43" cy="494.55" r="1.50" fill="#000" stroke="#000" stroke-width="0.7"/>
<circle cx="36.29" cy="496.59" r="1.50" fill="#000" stroke="#000" stroke-width="0.7"/>
<circle cx="39.14" cy="497.94" r="1.50" fill="#000" stroke="#000" stroke-width="0.7"/>
<circle cx="42.00" cy="499.07" r="1.50" fill="#000" stroke="#000" stroke-width="0.7"/>
<circle cx="45.20" cy="499.82" r="1.50" fill="#000" stroke="#000" stroke-width="0.7"/>
<circle cx="22.00" cy="500.20" r="1.50" fill="#000" stroke="#000" stroke-width="0.7"/>
<circle cx="24.29" cy="494.64" r="1.50" fill="#000" stroke="#000" stroke-width="0.7"/>
<circle cx="26.00" cy="491.61" r="1.50" fill="#000" stroke="#000" stroke-width="0.7"/>
<circle cx="27.71" cy="490.10" r="1.50" fill="#000" stroke="#000" stroke-width="0.7"/>
<circle cx="29.43" cy="490.60" r="1.50" fill="#000" stroke="#000" stroke-width="0.7"/>
<circle cx="31.14" cy="493.13" r="1.50" fill="#000" stroke="#000" stroke-width="0.7"/>
<circle cx="33.43" cy="495.15" r="1.50" fill="#000" stroke="#000" stroke-width="0.7"/>
<circle cx="36.29" cy="496.97" r="1.50" fill="#000" stroke="#000" stroke-width="0.7"/>
<circle cx="39.14" cy="498.18" r="1.50" fill="#000" stroke="#000" stroke-width="0.7"/>
<circle cx="42.00" cy="499.19" r="1.50" fill="#000" stroke="#000" stroke-width="0.7"/>
<circle cx="45.20" cy="499.82" r="1.50" fill="#000" stroke="#000" stroke-width="0.7"/>
<circle cx="22.00" cy="500.20" r="1.50" fill="#000" stroke="#000" stroke-width="0.7"/>
<circle cx="24.29" cy="493.77" r="1.50" fill="#000" stroke="#000" stroke-width="0.7"/>
<circle cx="26.00" cy="490.26" r="1.50" fill="#000" stroke="#000" stroke-width="0.7"/>
<circle cx="27.71" cy="488.50" r="1.50" fill="#000" stroke="#000" stroke-width="0.7"/>
<circle cx="29.43" cy="489.09" r="1.50" fill="#000" stroke="#000" stroke-width="0.7"/>
<circle cx="31.14" cy="492.01" r="1.50" fill="#000" stroke="#000" stroke-width="0.7"/>
<circle cx="33.43" cy="494.35" r="1.50" fill="#000" stroke="#000" stroke-width="0.7"/>
<circle cx="36.29" cy="496.46" r="1.50" fill="#000" stroke="#000" stroke-width="0.7"/>
<circle cx="39.14" cy="497.86" r="1.50" fill="#000" stroke="#000" stroke-width="0.7"/>
<circle cx="42.00" cy="499.03" r="1.50" fill="#000" stroke="#000" stroke-width="0.7"/>
<circle cx="45.20" cy="499.82" r="1.50" fill="#000" stroke="#000" stroke-width="0.7"/>
<circle cx="22.00" cy="500.20" r="1.50" fill="#000" stroke="#000" stroke-width="0.7"/>
<circle cx="24.29" cy="493.68" r="1.50" fill="#000" stroke="#000" stroke-width="0.7"/>
<circle cx="26.00" cy="490.13" r="1.50" fill="#000" stroke="#000" stroke-width="0.7"/>
<circle cx="27.71" cy="488.35" r="1.50" fill="#000" stroke="#000" stroke-width="0.7"/>
<circle cx="29.43" cy="488.94" r="1.50" fill="#000" stroke="#000" stroke-width="0.7"/>
<circle cx="31.14" cy="491.91" r="1.50" fill="#000" stroke="#000" stroke-width="0.7"/>
<circle cx="33.43" cy="494.28" r="1.50" fill="#000" stroke="#000" stroke-width="0.7"/>
<circle cx="36.29" cy="496.41" r="1.50" fill="#000" stroke="#000" stroke-width="0.7"/>
<circle cx="39.14" cy="497.83" r="1.50" fill="#000" stroke="#000" stroke-width="0.7"/>
<circle cx="42.00" cy="499.02" r="1.50" fill="#000" stroke="#000" stroke-width="0.7"/>
<circle cx="45.20" cy="499.82" r="1.50" fill="#000" stroke="#000" stroke-width="0.7"/>
<circle cx="22.00" cy="500.20" r="1.50" fill="#000" stroke="#000" stroke-width="0.7"/>
<circle cx="24.29" cy="495.79" r="1.50" fill="#000" stroke="#000" stroke-width="0.7"/>
<circle cx="26.00" cy="493.38" r="1.50" fill="#000" stroke="#000" stroke-width="0.7"/>
<circle cx="27.71" cy="492.17" r="1.50" fill="#000" stroke="#000" stroke-width="0.7"/>
<circle cx="29.43" cy="492.57" r="1.50" fill="#000" stroke="#000" stroke-width="0.7"/>
<circle cx="31.14" cy="494.58" r="1.50" fill="#000" stroke="#000" stroke-width="0.7"/>
<circle cx="33.43" cy="496.19" r="1.50" fill="#000" stroke="#000" stroke-width="0.7"/>
<circle cx="36.29" cy="497.63" r="1.50" fill="#000" stroke="#000" stroke-width="0.7"/>
<circle cx="39.14" cy="498.59" r="1.50" fill="#000" stroke="#000" stroke-width="0.7"/>
<circle cx="42.00" cy="499.40" r="1.50" fill="#000" stroke="#000" stroke-width="0.7"/>
<circle cx="45.20" cy="499.82" r="1.50" fill="#000" stroke="#000" stroke-width="0.7"/>
<circle cx="22.00" cy="500.20" r="1.50" fill="#000" stroke="#000" stroke-width="0.7"/>
<circle cx="24.29" cy="495.98" r="1.50" fill="#000" stroke="#000" stroke-width="0.7"/>
<circle cx="26.00" cy="493.68" r="1.50" fill="#000" stroke="#000" stroke-width="0.7"/>
<circle cx="27.71" cy="492.53" r="1.50" fill="#000" stroke="#000" stroke-width="0.7"/>
<circle cx="29.43" cy="492.91" r="1.50" fill="#000" stroke="#000" stroke-width="0.7"/>
<circle cx="31.14" cy="494.83" r="1.50" fill="#000" stroke="#000" stroke-width="0.7"/>
<circle cx="33.43" cy="496.37" r="1.50" fill="#000" stroke="#000" stroke-width="0.7"/>
<circle cx="36.29" cy="497.75" r="1.50" fill="#000" stroke="#000" stroke-width="0.7"/>
<circle cx="39.14" cy="498.67" r="1.50" fill="#000" stroke="#000" stroke-width="0.7"/>
<circle cx="42.00" cy="499.43" r="1.50" fill="#000" stroke="#000" stroke-width="0.7"/>
<circle cx="45.20" cy="499.82" r="1.50" fill="#000" stroke="#000" stroke-width="0.7"/>
<circle cx="22.00" cy="500.20" r="1.50" fill="#000" stroke="#000" stroke-width="0.7"/>
<circle cx="24.29" cy="492.89" r="1.50" fill="#000" stroke="#000" stroke-width="0.7"/>
<circle cx="26.00" cy="488.90" r="1.50" fill="#000" stroke="#000" stroke-width="0.7"/>
<circle cx="27.71" cy="486.91" r="1.50" fill="#000" stroke="#000" stroke-width="0.7"/>
<circle cx="29.43" cy="487.57" r="1.50" fill="#000" stroke="#000" stroke-width="0.7"/>
<circle cx="31.14" cy="490.89" r="1.50" fill="#000" stroke="#000" stroke-width="0.7"/>
<circle cx="33.43" cy="493.55" r="1.50" fill="#000" stroke="#000" stroke-width="0.7"/>
<circle cx="36.29" cy="495.95" r="1.50" fill="#000" stroke="#000" stroke-width="0.7"/>
<circle cx="39.14" cy="497.54" r="1.50" fill="#000" stroke="#000" stroke-width="0.7"/>
<circle cx="42.00" cy="498.87" r="1.50" fill="#000" stroke="#000" stroke-width="0.7"/>
<circle cx="45.20" cy="499.82" r="1.50" fill="#000" stroke="#000" stroke-width="0.7"/>
<circle cx="22.00" cy="500.20" r="1.50" fill="#000" stroke="#000" stroke-width="0.7"/>
<circle cx="24.29" cy="495.06" r="1.50" fill="#000" stroke="#000" stroke-width="0.7"/>
<circle cx="26.00" cy="492.25" r="1.50" fill="#000" stroke="#000" stroke-width="0.7"/>
<circle cx="27.71" cy="490.85" r="1.50" fill="#000" stroke="#000" stroke-width="0.7"/>
<circle cx="29.43" cy="491.32" r="1.50" fill="#000" stroke="#000" stroke-width="0.7"/>
<circle cx="31.14" cy="493.66" r="1.50" fill="#000" stroke="#000" stroke-width="0.7"/>
<circle cx="33.43" cy="495.53" r="1.50" fill="#000" stroke="#000" stroke-width="0.7"/>
<circle cx="36.29" cy="497.21" r="1.50" fill="#000" stroke="#000" stroke-width="0.7"/>
<circle cx="39.14" cy="498.33" r="1.50" fill="#000" stroke="#000" stroke-width="0.7"/>
<circle cx="42.00" cy="499.27" r="1.50" fill="#000" stroke="#000" stroke-width="0.7"/>
<circle cx="45.20" cy="499.82" r="1.50" fill="#000" stroke="#000" stroke-width="0.7"/>
<circle cx="22.00" cy="500.20" r="1.50" fill="#000" stroke="#000" stroke-width="0.7"/>
<circle cx="24.29" cy="495.15" r="1.50" fill="#000" stroke="#000" stroke-width="0.7"/>
<circle cx="26.00" cy="492.40" r="1.50" fill="#000" stroke="#000" stroke-width="0.7"/>
<circle cx="27.71" cy="491.02" r="1.50" fill="#000" stroke="#000" stroke-width="0.7"/>
<circle cx="29.43" cy="491.48" r="1.50" fill="#000" stroke="#000" stroke-width="0.7"/>
<circle cx="31.14" cy="493.77" r="1.50" fill="#000" stroke="#000" stroke-width="0.7"/>
<circle cx="33.43" cy="495.61" r="1.50" fill="#000" stroke="#000" stroke-width="0.7"/>
<circle cx="36.29" cy="497.26" r="1.50" fill="#000" stroke="#000" stroke-width="0.7"/>
<circle cx="39.14" cy="498.36" r="1.50" fill="#000" stroke="#000" stroke-width="0.7"/>
<circle cx="42.00" cy="499.28" r="1.50" fill="#000" stroke="#000" stroke-width="0.7"/>
<circle cx="45.20" cy="499.82" r="1.50" fill="#000" stroke="#000" stroke-width="0.7"/>
<circle cx="22.00" cy="500.20" r="1.50" fill="#000" stroke="#000" stroke-width="0.7"/>
<circle cx="24.29" cy="492.30" r="1.50" fill="#000" stroke="#000" stroke-width="0.7"/>
<circle cx="26.00" cy="487.98" r="1.50" fill="#000" stroke="#000" stroke-width="0.7"/>
<circle cx="27.71" cy="485.83" r="1.50" fill="#000" stroke="#000" stroke-width="0.7"/>
<circle cx="29.43" cy="486.55" r="1.50" fill="#000" stroke="#000" stroke-width="0.7"/>
<circle cx="31.14" cy="490.14" r="1.50" fill="#000" stroke="#000" stroke-width="0.7"/>
<circle cx="33.43" cy="493.01" r="1.50" fill="#000" stroke="#000" stroke-width="0.7"/>
<circle cx="36.29" cy="495.60" r="1.50" fill="#000" stroke="#000" stroke-width="0.7"/>
<circle cx="39.14" cy="497.33" r="1.50" fill="#000" stroke="#000" stroke-width="0.7"/>
<circle cx="42.00" cy="498.76" r="1.50" fill="#000" stroke="#000" stroke-width="0.7"/>
<circle cx="45.20" cy="499.82" r="1.50" fill="#000" stroke="#000" stroke-width="0.7"/>
<polyline points="45.20,500.20 48.92,500.20 52.63,500.20 56.35,500.20 60.06,500.20 63.78,500.20 67.49,500.20 71.21,500.20 74.92,500.20 78.64,500.20 82.35,500.20 86.07,500.20 89.78,500.20 93.49,500.20 97.21,500.20 100.92,500.20 104.64,500.20 108.35,500.20 112.07,500.20 115.78,500.20 119.50,500.20 123.21,500.20 126.93,500.20 130.64,500.20" fill="none" stroke="#000" stroke-width="0.8" stroke-linejoin="round"/>
<circle cx="45.20" cy="500.20" r="1.25" fill="#000" stroke="#000" stroke-width="0.7"/>
<circle cx="48.92" cy="500.20" r="1.25" fill="#000" stroke="#000" stroke-width="0.7"/>
<circle cx="52.63" cy="500.20" r="1.25" fill="#000" stroke="#000" stroke-width="0.7"/>
<circle cx="56.35" cy="500.20" r="1.25" fill="#000" stroke="#000" stroke-width="0.7"/>
<circle cx="60.06" cy="500.20" r="1.25" fill="#000" stroke="#000" stroke-width="0.7"/>
<circle cx="63.78" cy="500.20" r="1.25" fill="#000" stroke="#000" stroke-width="0.7"/>
<circle cx="67.49" cy="500.20" r="1.25" fill="#000" stroke="#000" stroke-width="0.7"/>
<circle cx="71.21" cy="500.20" r="1.25" fill="#000" stroke="#000" stroke-width="0.7"/>
<circle cx="74.92" cy="500.20" r="1.25" fill="#000" stroke="#000" stroke-width="0.7"/>
<circle cx="78.64" cy="500.20" r="1.25" fill="#000" stroke="#000" stroke-width="0.7"/>
<circle cx="82.35" cy="500.20" r="1.25" fill="#000" stroke="#000" stroke-width="0.7"/>
<circle cx="86.07" cy="500.20" r="1.25" fill="#000" stroke="#000" stroke-width="0.7"/>
<circle cx="89.78" cy="500.20" r="1.25" fill="#000" stroke="#000" stroke-width="0.7"/>
<circle cx="93.49" cy="500.20" r="1.25" fill="#000" stroke="#000" stroke-width="0.7"/>
<circle cx="97.21" cy="500.20" r="1.25" fill="#000" stroke="#000" stroke-width="0.7"/>
<circle cx="100.92" cy="500.20" r="1.25" fill="#000" stroke="#000" stroke-width="0.7"/>
<circle cx="104.64" cy="500.20" r="1.25" fill="#000" stroke="#000" stroke-width="0.7"/>
<circle cx="108.35" cy="500.20" r="1.25" fill="#000" stroke="#000" stroke-width="0.7"/>
<circle cx="112.07" cy="500.20" r="1.25" fill="#000" stroke="#000" stroke-width="0.7"/>
<circle cx="115.78" cy="500.20" r="1.25" fill="#000" stroke="#000" stroke-width="0.7"/>
<circle cx="119.50" cy="500.20" r="1.25" fill="#000" stroke="#000" stroke-width="0.7"/>
<circle cx="123.21" cy="500.20" r="1.25" fill="#000" stroke="#000" stroke-width="0.7"/>
<circle cx="126.93" cy="500.20" r="1.25" fill="#000" stroke="#000" stroke-width="0.7"/>
<circle cx="130.64" cy="500.20" r="1.25" fill="#000" stroke="#000" stroke-width="0.7"/>
<polyline points="178.70,498.70 180.98,493.02 183.25,489.62 186.44,488.10 187.80,489.62 190.08,492.27 192.36,493.78 195.77,495.29 198.05,495.67 201.46,494.91 203.74,491.89 206.47,486.59 210.79,477.13 214.21,464.26 216.60,460.09" fill="none" stroke="#000" stroke-width="0.8" stroke-linejoin="round"/>
<polyline points="178.70,498.70 180.98,493.78 183.25,490.37 185.53,488.86 187.80,490.37 190.08,492.64 193.49,494.54 196.91,495.67 201.46,494.16 204.87,490.37 209.43,484.32 211.70,475.99 216.60,467.28 217.96,459.71" fill="none" stroke="#000" stroke-width="0.8" stroke-linejoin="round"/>
<polyline points="178.70,498.70 180.98,492.64 183.25,489.24 185.53,487.72 187.80,489.24 190.08,491.89 193.49,494.16 196.91,494.91 201.46,494.91 206.01,491.13 209.43,487.34 212.84,483.56 216.60,480.53 218.53,475.99 220.24,466.53 222.74,458.96" fill="none" stroke="#000" stroke-width="0.8" stroke-linejoin="round"/>
<polyline points="178.70,498.70 180.98,493.40 183.25,490.37 185.53,489.24 187.80,491.13 190.08,493.02 193.49,494.91 196.91,496.05 201.46,495.67 206.01,493.02 210.56,489.24 215.12,485.45 218.53,479.77 222.29,471.45 224.68,465.39 225.70,457.06" fill="none" stroke="#000" stroke-width="0.8" stroke-linejoin="round"/>
<polyline points="178.70,498.70 180.98,493.02 183.25,489.99 185.53,488.48 187.80,489.99 190.08,492.64 193.49,494.91 196.91,495.67 201.46,496.43 206.01,494.16 210.56,492.64 215.12,491.13 218.53,489.24 222.74,488.86 225.70,492.27 229.45,491.13 233.32,483.56 235.03,475.23 237.88,470.31 241.29,457.06" fill="none" stroke="#000" stroke-width="0.8" stroke-linejoin="round"/>
<polyline points="178.70,498.70 180.98,494.16 183.25,491.13 185.53,489.62 187.80,490.75 190.08,493.02 193.49,494.91 196.91,496.05 201.46,496.81 206.01,494.91 210.56,494.16 215.12,493.02 219.67,491.13 224.22,490.37 227.63,491.13 231.05,489.24 235.60,482.80 239.58,480.91 242.77,475.23" fill="none" stroke="#000" stroke-width="0.8" stroke-linejoin="round"/>
<polyline points="178.70,498.70 180.98,493.40 183.25,490.75 185.53,488.86 187.80,490.37 190.08,492.64 193.49,494.54 196.91,495.67 201.46,495.67 206.01,491.13 210.56,487.34 213.98,483.56 216.60,480.53" fill="none" stroke="#000" stroke-width="0.8" stroke-linejoin="round"/>
<polyline points="178.70,498.70 180.98,494.16 183.25,491.13 185.53,489.62 187.80,491.13 190.08,493.40 193.49,495.67 196.91,496.81 200.32,497.94 203.74,498.70" fill="none" stroke="#000" stroke-width="0.8" stroke-linejoin="round"/>
<polyline points="178.70,498.70 180.98,493.40 183.25,490.75 185.53,489.24 187.80,490.75 190.08,493.78 193.49,496.05 196.91,497.19 200.32,498.32 203.74,498.70" fill="none" stroke="#000" stroke-width="0.8" stroke-linejoin="round"/>
<polygon points="178.70,497.20 180.20,498.70 178.70,500.20 177.20,498.70" fill="#000" stroke="#000" stroke-width="0.7"/>
<polygon points="180.98,491.52 182.48,493.02 180.98,494.52 179.48,493.02" fill="#000" stroke="#000" stroke-width="0.7"/>
<polygon points="183.25,488.12 184.75,489.62 183.25,491.12 181.75,489.62" fill="#000" stroke="#000" stroke-width="0.7"/>
<polygon points="186.44,486.60 187.94,488.10 186.44,489.60 184.94,488.10" fill="#000" stroke="#000" stroke-width="0.7"/>
<polygon points="187.80,488.12 189.30,489.62 187.80,491.12 186.30,489.62" fill="#000" stroke="#000" stroke-width="0.7"/>
<polygon points="190.08,490.77 191.58,492.27 190.08,493.77 188.58,492.27" fill="#000" stroke="#000" stroke-width="0.7"/>
<polygon points="192.36,492.28 193.86,493.78 192.36,495.28 190.86,493.78" fill="#000" stroke="#000" stroke-width="0.7"/>
<polygon points="195.77,493.79 197.27,495.29 195.77,496.79 194.27,495.29" fill="#000" stroke="#000" stroke-width="0.7"/>
<polygon points="198.05,494.17 199.55,495.67 198.05,497.17 196.55,495.67" fill="#000" stroke="#000" stroke-width="0.7"/>
<polygon points="201.46,493.41 202.96,494.91 201.46,496.41 199.96,494.91" fill="#000" stroke="#000" stroke-width="0.7"/>
<polygon points="203.74,490.39 205.24,491.89 203.74,493.39 202.24,491.89" fill="#000" stroke="#000" stroke-width="0.7"/>
<polygon points="206.47,485.09 207.97,486.59 206.47,488.09 204.97,486.59" fill="#000" stroke="#000" stroke-width="0.7"/>
<polygon points="210.79,475.63 212.29,477.13 210.79,478.63 209.29,477.13" fill="#000" stroke="#000" stroke-width="0.7"/>
<polygon points="214.21,462.76 215.71,464.26 214.21,465.76 212.71,464.26" fill="#000" stroke="#000" stroke-width="0.7"/>
<polygon points="216.60,458.59 218.10,460.09 216.60,461.59 215.10,460.09" fill="#000" stroke="#000" stroke-width="0.7"/>
<polygon points="178.70,497.20 180.20,498.70 178.70,500.20 177.20,498.70" fill="#000" stroke="#000" stroke-width="0.7"/>
<polygon points="180.98,492.28 182.48,493.78 180.98,495.28 179.48,493.78" fill="#000" stroke="#000" stroke-width="0.7"/>
<polygon points="183.25,488.87 184.75,490.37 183.25,491.87 181.75,490.37" fill="#000" stroke="#000" stroke-width="0.7"/>
<polygon points="185.53,487.36 187.03,488.86 185.53,490.36 184.03,488.86" fill="#000" stroke="#000" stroke-width="0.7"/>
<polygon points="187.80,488.87 189.30,490.37 187.80,491.87 186.30,490.37" fill="#000" stroke="#000" stroke-width="0.7"/>
<polygon points="190.08,491.14 191.58,492.64 190.08,494.14 188.58,492.64" fill="#000" stroke="#000" stroke-width="0.7"/>
<polygon points="193.49,493.04 194.99,494.54 193.49,496.04 191.99,494.54" fill="#000" stroke="#000" stroke-width="0.7"/>
<polygon points="196.91,494.17 198.41,495.67 196.91,497.17 195.41,495.67" fill="#000" stroke="#000" stroke-width="0.7"/>
<polygon points="201.46,492.66 202.96,494.16 201.46,495.66 199.96,494.16" fill="#000" stroke="#000" stroke-width="0.7"/>
<polygon points="204.87,488.87 206.37,490.37 204.87,491.87 203.37,490.37" fill="#000" stroke="#000" stroke-width="0.7"/>
<polygon points="209.43,482.82 210.93,484.32 209.43,485.82 207.93,484.32" fill="#000" stroke="#000" stroke-width="0.7"/>
<polygon points="211.70,474.49 213.20,475.99 211.70,477.49 210.20,475.99" fill="#000" stroke="#000" stroke-width="0.7"/>
<polygon points="216.60,465.78 218.10,467.28 216.60,468.78 215.10,467.28" fill="#000" stroke="#000" stroke-width="0.7"/>
<polygon points="217.96,458.21 219.46,459.71 217.96,461.21 216.46,459.71" fill="#000" stroke="#000" stroke-width="0.7"/>
<polygon points="178.70,497.20 180.20,498.70 178.70,500.20 177.20,498.70" fill="#000" stroke="#000" stroke-width="0.7"/>
<polygon points="180.98,491.14 182.48,492.64 180.98,494.14 179.48,492.64" fill="#000" stroke="#000" stroke-width="0.7"/>
<polygon points="183.25,487.74 184.75,489.24 183.25,490.74 181.75,489.24" fill="#000" stroke="#000" stroke-width="0.7"/>
<polygon points="185.53,486.22 187.03,487.72 185.53,489.22 184.03,487.72" fill="#000" stroke="#000" stroke-width="0.7"/>
<polygon points="187.80,487.74 189.30,489.24 187.80,490.74 186.30,489.24" fill="#000" stroke="#000" stroke-width="0.7"/>
<polygon points="190.08,490.39 191.58,491.89 190.08,493.39 188.58,491.89" fill="#000" stroke="#000" stroke-width="0.7"/>
<polygon points="193.49,492.66 194.99,494.16 193.49,495.66 191.99,494.16" fill="#000" stroke="#000" stroke-width="0.7"/>
<polygon points="196.91,493.41 198.41,494.91 196.91,496.41 195.41,494.91" fill="#000" stroke="#000" stroke-width="0.7"/>
<polygon points="201.46,493.41 202.96,494.91 201.46,496.41 199.96,494.91" fill="#000" stroke="#000" stroke-width="0.7"/>
<polygon points="206.01,489.63 207.51,491.13 206.01,492.63 204.51,491.13" fill="#000" stroke="#000" stroke-width="0.7"/>
<polygon points="209.43,485.84 210.93,487.34 209.43,488.84 207.93,487.34" fill="#000" stroke="#000" stroke-width="0.7"/>
<polygon points="212.84,482.06 214.34,483.56 212.84,485.06 211.34,483.56" fill="#000" stroke="#000" stroke-width="0.7"/>
<polygon points="216.60,479.03 218.10,480.53 216.60,482.03 215.10,480.53" fill="#000" stroke="#000" stroke-width="0.7"/>
<polygon points="218.53,474.49 220.03,475.99 218.53,477.49 217.03,475.99" fill="#000" stroke="#000" stroke-width="0.7"/>
<polygon points="220.24,465.03 221.74,466.53 220.24,468.03 218.74,466.53" fill="#000" stroke="#000" stroke-width="0.7"/>
<polygon points="222.74,457.46 224.24,458.96 222.74,460.46 221.24,458.96" fill="#000" stroke="#000" stroke-width="0.7"/>
<polygon points="178.70,497.20 180.20,498.70 178.70,500.20 177.20,498.70" fill="#000" stroke="#000" stroke-width="0.7"/>
<polygon points="180.98,491.90 182.48,493.40 180.98,494.90 179.48,493.40" fill="#000" stroke="#000" stroke-width="0.7"/>
<polygon points="183.25,488.87 184.75,490.37 183.25,491.87 181.75,490.37" fill="#000" stroke="#000" stroke-width="0.7"/>
<polygon points="185.53,487.74 187.03,489.24 185.53,490.74 184.03,489.24" fill="#000" stroke="#000" stroke-width="0.7"/>
<polygon points="187.80,489.63 189.30,491.13 187.80,492.63 186.30,491.13" fill="#000" stroke="#000" stroke-width="0.7"/>
<polygon points="190.08,491.52 191.58,493.02 190.08,494.52 188.58,493.02" fill="#000" stroke="#000" stroke-width="0.7"/>
<polygon points="193.49,493.41 194.99,494.91 193.49,496.41 191.99,494.91" fill="#000" stroke="#000" stroke-width="0.7"/>
<polygon points="196.91,494.55 198.41,496.05 196.91,497.55 195.41,496.05" fill="#000" stroke="#000" stroke-width="0.7"/>
<polygon points="201.46,494.17 202.96,495.67 201.46,497.17 199.96,495.67" fill="#000" stroke="#000" stroke-width="0.7"/>
<polygon points="206.01,491.52 207.51,493.02 206.01,494.52 204.51,493.02" fill="#000" stroke="#000" stroke-width="0.7"/>
<polygon points="210.56,487.74 212.06,489.24 210.56,490.74 209.06,489.24" fill="#000" stroke="#000" stroke-width="0.7"/>
<polygon points="215.12,483.95 216.62,485.45 215.12,486.95 213.62,485.45" fill="#000" stroke="#000" stroke-width="0.7"/>
<polygon points="218.53,478.27 220.03,479.77 218.53,481.27 217.03,479.77" fill="#000" stroke="#000" stroke-width="0.7"/>
<polygon points="222.29,469.95 223.79,471.45 222.29,472.95 220.79,471.45" fill="#000" stroke="#000" stroke-width="0.7"/>
<polygon points="224.68,463.89 226.18,465.39 224.68,466.89 223.18,465.39" fill="#000" stroke="#000" stroke-width="0.7"/>
<polygon points="225.70,455.56 227.20,457.06 225.70,458.56 224.20,457.06" fill="#000" stroke="#000" stroke-width="0.7"/>
<polygon points="178.70,497.20 180.20,498.70 178.70,500.20 177.20,498.70" fill="#000" stroke="#000" stroke-width="0.7"/>
<polygon points="180.98,491.52 182.48,493.02 180.98,494.52 179.48,493.02" fill="#000" stroke="#000" stroke-width="0.7"/>
<polygon points="183.25,488.49 184.75,489.99 183.25,491.49 181.75,489.99" fill="#000" stroke="#000" stroke-width="0.7"/>
<polygon points="185.53,486.98 187.03,488.48 185.53,489.98 184.03,488.48" fill="#000" stroke="#000" stroke-width="0.7"/>
<polygon points="187.80,488.49 189.30,489.99 187.80,491.49 186.30,489.99" fill="#000" stroke="#000" stroke-width="0.7"/>
<polygon points="190.08,491.14 191.58,492.64 190.08,494.14 188.58,492.64" fill="#000" stroke="#000" stroke-width="0.7"/>
<polygon points="193.49,493.41 194.99,494.91 193.49,496.41 191.99,494.91" fill="#000" stroke="#000" stroke-width="0.7"/>
<polygon points="196.91,494.17 198.41,495.67 196.91,497.17 195.41,495.67" fill="#000" stroke="#000" stroke-width="0.7"/>
<polygon points="201.46,494.93 202.96,496.43 201.46,497.93 199.96,496.43" fill="#000" stroke="#000" stroke-width="0.7"/>
<polygon points="206.01,492.66 207.51,494.16 206.01,495.66 204.51,494.16" fill="#000" stroke="#000" stroke-width="0.7"/>
<polygon points="210.56,491.14 212.06,492.64 210.56,494.14 209.06,492.64" fill="#000" stroke="#000" stroke-width="0.7"/>
<polygon points="215.12,489.63 216.62,491.13 215.12,492.63 213.62,491.13" fill="#000" stroke="#000" stroke-width="0.7"/>
<polygon points="218.53,487.74 220.03,489.24 218.53,490.74 217.03,489.24" fill="#000" stroke="#000" stroke-width="0.7"/>
<polygon points="222.74,487.36 224.24,488.86 222.74,490.36 221.24,488.86" fill="#000" stroke="#000" stroke-width="0.7"/>
<polygon points="225.70,490.77 227.20,492.27 225.70,493.77 224.20,492.27" fill="#000" stroke="#000" stroke-width="0.7"/>
<polygon points="229.45,489.63 230.95,491.13 229.45,492.63 227.95,491.13" fill="#000" stroke="#000" stroke-width="0.7"/>
<polygon points="233.32,482.06 234.82,483.56 233.32,485.06 231.82,483.56" fill="#000" stroke="#000" stroke-width="0.7"/>
<polygon points="235.03,473.73 236.53,475.23 235.03,476.73 233.53,475.23" fill="#000" stroke="#000" stroke-width="0.7"/>
<polygon points="237.88,468.81 239.38,470.31 237.88,471.81 236.38,470.31" fill="#000" stroke="#000" stroke-width="0.7"/>
<polygon points="241.29,455.56 242.79,457.06 241.29,458.56 239.79,457.06" fill="#000" stroke="#000" stroke-width="0.7"/>
<polygon points="178.70,497.20 180.20,498.70 178.70,500.20 177.20,498.70" fill="#000" stroke="#000" stroke-width="0.7"/>
<polygon points="180.98,492.66 182.48,494.16 180.98,495.66 179.48,494.16" fill="#000" stroke="#000" stroke-width="0.7"/>
<polygon points="183.25,489.63 184.75,491.13 183.25,492.63 181.75,491.13" fill="#000" stroke="#000" stroke-width="0.7"/>
<polygon points="185.53,488.12 187.03,489.62 185.53,491.12 184.03,489.62" fill="#000" stroke="#000" stroke-width="0.7"/>
<polygon points="187.80,489.25 189.30,490.75 187.80,492.25 186.30,490.75" fill="#000" stroke="#000" stroke-width="0.7"/>
<polygon points="190.08,491.52 191.58,493.02 190.08,494.52 188.58,493.02" fill="#000" stroke="#000" stroke-width="0.7"/>
<polygon points="193.49,493.41 194.99,494.91 193.49,496.41 191.99,494.91" fill="#000" stroke="#000" stroke-width="0.7"/>
<polygon points="196.91,494.55 198.41,496.05 196.91,497.55 195.41,496.05" fill="#000" stroke="#000" stroke-width="0.7"/>
<polygon points="201.46,495.31 202.96,496.81 201.46,498.31 199.96,496.81" fill="#000" stroke="#000" stroke-width="0.7"/>
<polygon points="206.01,493.41 207.51,494.91 206.01,496.41 204.51,494.91" fill="#000" stroke="#000" stroke-width="0.7"/>
<polygon points="210.56,492.66 212.06,494.16 210.56,495.66 209.06,494.16" fill="#000" stroke="#000" stroke-width="0.7"/>
<polygon points="215.12,491.52 216.62,493.02 215.12,494.52 213.62,493.02" fill="#000" stroke="#000" stroke-width="0.7"/>
<polygon points="219.67,489.63 221.17,491.13 219.67,492.63 218.17,491.13" fill="#000" stroke="#000" stroke-width="0.7"/>
<polygon points="224.22,488.87 225.72,490.37 224.22,491.87 222.72,490.37" fill="#000" stroke="#000" stroke-width="0.7"/>
<polygon points="227.63,489.63 229.13,491.13 227.63,492.63 226.13,491.13" fill="#000" stroke="#000" stroke-width="0.7"/>
<polygon points="231.05,487.74 232.55,489.24 231.05,490.74 229.55,489.24" fill="#000" stroke="#000" stroke-width="0.7"/>
<polygon points="235.60,481.30 237.10,482.80 235.60,484.30 234.10,482.80" fill="#000" stroke="#000" stroke-width="0.7"/>
<polygon points="239.58,479.41 241.08,480.91 239.58,482.41 238.08,480.91" fill="#000" stroke="#000" stroke-width="0.7"/>
<polygon points="242.77,473.73 244.27,475.23 242.77,476.73 241.27,475.23" fill="#000" stroke="#000" stroke-width="0.7"/>
<polygon points="178.70,497.20 180.20,498.70 178.70,500.20 177.20,498.70" fill="#000" stroke="#000" stroke-width="0.7"/>
<polygon points="180.98,491.90 182.48,493.40 180.98,494.90 179.48,493.40" fill="#000" stroke="#000" stroke-width="0.7"/>
<polygon points="183.25,489.25 184.75,490.75 183.25,492.25 181.75,490.75" fill="#000" stroke="#000" stroke-width="0.7"/>
<polygon points="185.53,487.36 187.03,488.86 185.53,490.36 184.03,488.86" fill="#000" stroke="#000" stroke-width="0.7"/>
<polygon points="187.80,488.87 189.30,490.37 187.80,491.87 186.30,490.37" fill="#000" stroke="#000" stroke-width="0.7"/>
<polygon points="190.08,491.14 191.58,492.64 190.08,494.14 188.58,492.64" fill="#000" stroke="#000" stroke-width="0.7"/>
<polygon points="193.49,493.04 194.99,494.54 193.49,496.04 191.99,494.54" fill="#000" stroke="#000" stroke-width="0.7"/>
<polygon points="196.91,494.17 198.41,495.67 196.91,497.17 195.41,495.67" fill="#000" stroke="#000" stroke-width="0.7"/>
<polygon points="201.46,494.17 202.96,495.67 201.46,497.17 199.96,495.67" fill="#000" stroke="#000" stroke-width="0.7"/>
<polygon points="206.01,489.63 207.51,491.13 206.01,492.63 204.51,491.13" fill="#000" stroke="#000" stroke-width="0.7"/>
<polygon points="210.56,485.84 212.06,487.34 210.56,488.84 209.06,487.34" fill="#000" stroke="#000" stroke-width="0.7"/>
<polygon points="213.98,482.06 215.48,483.56 213.98,485.06 212.48,483.56" fill="#000" stroke="#000" stroke-width="0.7"/>
<polygon points="216.60,479.03 218.10,480.53 216.60,482.03 215.10,480.53" fill="#000" stroke="#000" stroke-width="0.7"/>
<polygon points="178.70,497.20 180.20,498.70 178.70,500.20 177.20,498.70" fill="#000" stroke="#000" stroke-width="0.7"/>
<polygon points="180.98,492.66 182.48,494.16 180.98,495.66 179.48,494.16" fill="#000" stroke="#000" stroke-width="0.7"/>
<polygon points="183.25,489.63 184.75,491.13 183.25,492.63 181.75,491.13" fill="#000" stroke="#000" stroke-width="0.7"/>
<polygon points="185.53,488.12 187.03,489.62 185.53,491.12 184.03,489.62" fill="#000" stroke="#000" stroke-width="0.7"/>
<polygon points="187.80,489.63 189.30,491.13 187.80,492.63 186.30,491.13" fill="#000" stroke="#000" stroke-width="0.7"/>
<polygon points="190.08,491.90 191.58,493.40 190.08,494.90 188.58,493.40" fill="#000" stroke="#000" stroke-width="0.7"/>
<polygon points="193.49,494.17 194.99,495.67 193.49,497.17 191.99,495.67" fill="#000" stroke="#000" stroke-width="0.7"/>
<polygon points="196.91,495.31 198.41,496.81 196.91,498.31 195.41,496.81" fill="#000" stroke="#000" stroke-width="0.7"/>
<polygon points="200.32,496.44 201.82,497.94 200.32,499.44 198.82,497.94" fill="#000" stroke="#000" stroke-width="0.7"/>
<polygon points="203.74,497.20 205.24,498.70 203.74,500.20 202.24,498.70" fill="#000" stroke="#000" stroke-width="0.7"/>
<polygon points="178.70,497.20 180.20,498.70 178.70,500.20 177.20,498.70" fill="#000" stroke="#000" stroke-width="0.7"/>
<polygon points="180.98,491.90 182.48,493.40 180.98,494.90 179.48,493.40" fill="#000" stroke="#000" stroke-width="0.7"/>
<polygon points="183.25,489.25 184.75,490.75 183.25,492.25 181.75,490.75" fill="#000" stroke="#000" stroke-width="0.7"/>
<polygon points="185.53,487.74 187.03,489.24 185.53,490.74 184.03,489.24" fill="#000" stroke="#000" stroke-width="0.7"/>
<polygon points="187.80,489.25 189.30,490.75 187.80,492.25 186.30,490.75" fill="#000" stroke="#000" stroke-width="0.7"/>
<polygon points="190.08,492.28 191.58,493.78 190.08,495.28 188.58,493.78" fill="#000" stroke="#000" stroke-width="0.7"/>
<polygon points="193.49,494.55 194.99,496.05 193.49,497.55 191.99,496.05" fill="#000" stroke="#000" stroke-width="0.7"/>
<polygon points="196.91,495.69 198.41,497.19 196.91,498.69 195.41,497.19" fill="#000" stroke="#000" stroke-width="0.7"/>
<polygon points="200.32,496.82 201.82,498.32 200.32,499.82 198.82,498.32" fill="#000" stroke="#000" stroke-width="0.7"/>
<polygon points="203.74,497.20 205.24,498.70 203.74,500.20 202.24,498.70" fill="#000" stroke="#000" stroke-width="0.7"/>
<polyline points="203.74,498.70 205.50,498.70 209.20,498.70 212.90,498.70 216.60,498.70 220.29,498.70 223.99,498.70 227.69,498.70 231.39,498.70 235.09,498.70 238.79,498.70 242.48,498.70 246.18,498.70 249.88,498.70 253.58,498.70 257.28,498.70 260.98,498.70 264.68,498.70 268.37,498.70 272.07,498.70 275.77,498.70 279.47,498.70 283.17,498.70 286.87,498.70" fill="none" stroke="#000" stroke-width="0.8" stroke-linejoin="round"/>
<polygon points="203.74,497.20 205.24,498.70 203.74,500.20 202.24,498.70" fill="#000" stroke="#000" stroke-width="0.7"/>
<polygon points="205.50,497.20 207.00,498.70 205.50,500.20 204.00,498.70" fill="#000" stroke="#000" stroke-width="0.7"/>
<polygon points="209.20,497.20 210.70,498.70 209.20,500.20 207.70,498.70" fill="#000" stroke="#000" stroke-width="0.7"/>
<polygon points="212.90,497.20 214.40,498.70 212.90,500.20 211.40,498.70" fill="#000" stroke="#000" stroke-width="0.7"/>
<polygon points="216.60,497.20 218.10,498.70 216.60,500.20 215.10,498.70" fill="#000" stroke="#000" stroke-width="0.7"/>
<polygon points="220.29,497.20 221.79,498.70 220.29,500.20 218.79,498.70" fill="#000" stroke="#000" stroke-width="0.7"/>
<polygon points="223.99,497.20 225.49,498.70 223.99,500.20 222.49,498.70" fill="#000" stroke="#000" stroke-width="0.7"/>
<polygon points="227.69,497.20 229.19,498.70 227.69,500.20 226.19,498.70" fill="#000" stroke="#000" stroke-width="0.7"/>
<polygon points="231.39,497.20 232.89,498.70 231.39,500.20 229.89,498.70" fill="#000" stroke="#000" stroke-width="0.7"/>
<polygon points="235.09,497.20 236.59,498.70 235.09,500.20 233.59,498.70" fill="#000" stroke="#000" stroke-width="0.7"/>
<polygon points="238.79,497.20 240.29,498.70 238.79,500.20 237.29,498.70" fill="#000" stroke="#000" stroke-width="0.7"/>
<polygon points="242.48,497.20 243.98,498.70 242.48,500.20 240.98,498.70" fill="#000" stroke="#000" stroke-width="0.7"/>
<polygon points="246.18,497.20 247.68,498.70 246.18,500.20 244.68,498.70" fill="#000" stroke="#000" stroke-width="0.7"/>
<polygon points="249.88,497.20 251.38,498.70 249.88,500.20 248.38,498.70" fill="#000" stroke="#000" stroke-width="0.7"/>
<polygon points="253.58,497.20 255.08,498.70 253.58,500.20 252.08,498.70" fill="#000" stroke="#000" stroke-width="0.7"/>
<polygon points="257.28,497.20 258.78,498.70 257.28,500.20 255.78,498.70" fill="#000" stroke="#000" stroke-width="0.7"/>
<polygon points="260.98,497.20 262.48,498.70 260.98,500.20 259.48,498.70" fill="#000" stroke="#000" stroke-width="0.7"/>
<polygon points="264.68,497.20 266.18,498.70 264.68,500.20 263.18,498.70" fill="#000" stroke="#000" stroke-width="0.7"/>
<polygon points="268.37,497.20 269.87,498.70 268.37,500.20 266.87,498.70" fill="#000" stroke="#000" stroke-width="0.7"/>
<polygon points="272.07,497.20 273.57,498.70 272.07,500.20 270.57,498.70" fill="#000" stroke="#000" stroke-width="0.7"/>
<polygon points="275.77,497.20 277.27,498.70 275.77,500.20 274.27,498.70" fill="#000" stroke="#000" stroke-width="0.7"/>
<polygon points="279.47,497.20 280.97,498.70 279.47,500.20 277.97,498.70" fill="#000" stroke="#000" stroke-width="0.7"/>
<polygon points="283.17,497.20 284.67,498.70 283.17,500.20 281.67,498.70" fill="#000" stroke="#000" stroke-width="0.7"/>
<polygon points="286.87,497.20 288.37,498.70 286.87,500.20 285.37,498.70" fill="#000" stroke="#000" stroke-width="0.7"/>
<polyline points="355.60,292.10 366.39,292.10 366.39,301.18 368.66,301.18 368.66,337.72 368.66,337.72 368.66,346.80 368.66,346.80 368.66,374.15 370.37,374.15 370.37,401.50" fill="none" stroke="#000" stroke-width="1.4" stroke-linejoin="round"/>
<polyline points="355.60,292.10 369.46,292.10 369.46,301.18 371.50,301.18 371.50,310.37 374.91,310.37 374.91,328.53 378.32,328.53 378.32,337.72 379.46,337.72 379.46,355.88 382.86,355.88 382.86,365.07 384.57,365.07 384.57,374.15 390.25,374.15 390.25,383.23 391.04,383.23 391.04,392.42 392.18,392.42 392.18,401.50" fill="none" stroke="#000" stroke-width="1.4" stroke-linejoin="round"/>
<polyline points="355.60,292.10 393.09,292.10 393.09,304.24 395.36,304.24 395.36,316.39 398.77,316.39 398.77,328.53 401.04,328.53 401.04,340.67 402.18,340.67 402.18,352.93 418.08,352.93 418.08,365.07 419.22,365.07 419.22,377.21 466.93,377.21" fill="none" stroke="#000" stroke-width="1.4" stroke-linejoin="round"/>
<polyline points="355.60,292.10 466.93,292.10" fill="none" stroke="#000" stroke-width="1.4" stroke-linejoin="round"/>
<circle cx="366.39" cy="301.18" r="2.00" fill="#000" stroke="#000" stroke-width="0.6"/>
<circle cx="368.66" cy="337.72" r="2.00" fill="#000" stroke="#000" stroke-width="0.6"/>
<circle cx="368.66" cy="346.80" r="2.00" fill="#000" stroke="#000" stroke-width="0.6"/>
<circle cx="368.66" cy="374.15" r="2.00" fill="#000" stroke="#000" stroke-width="0.6"/>
<circle cx="370.37" cy="401.50" r="2.00" fill="#000" stroke="#000" stroke-width="0.6"/>
<rect x="367.41" y="299.13" width="4.10" height="4.10" fill="#fff" stroke="#000" stroke-width="1.0"/>
<rect x="369.45" y="308.32" width="4.10" height="4.10" fill="#fff" stroke="#000" stroke-width="1.0"/>
<rect x="372.86" y="326.48" width="4.10" height="4.10" fill="#fff" stroke="#000" stroke-width="1.0"/>
<rect x="376.27" y="335.67" width="4.10" height="4.10" fill="#fff" stroke="#000" stroke-width="1.0"/>
<rect x="377.41" y="353.83" width="4.10" height="4.10" fill="#fff" stroke="#000" stroke-width="1.0"/>
<rect x="380.81" y="363.02" width="4.10" height="4.10" fill="#fff" stroke="#000" stroke-width="1.0"/>
<rect x="382.52" y="372.10" width="4.10" height="4.10" fill="#fff" stroke="#000" stroke-width="1.0"/>
<rect x="388.20" y="381.18" width="4.10" height="4.10" fill="#fff" stroke="#000" stroke-width="1.0"/>
<rect x="388.99" y="390.37" width="4.10" height="4.10" fill="#fff" stroke="#000" stroke-width="1.0"/>
<rect x="390.13" y="399.45" width="4.10" height="4.10" fill="#fff" stroke="#000" stroke-width="1.0"/>
<polygon points="393.09,302.04 395.29,304.24 393.09,306.44 390.89,304.24" fill="#000" stroke="#000" stroke-width="0.6"/>
<polygon points="395.36,314.19 397.56,316.39 395.36,318.59 393.16,316.39" fill="#000" stroke="#000" stroke-width="0.6"/>
<polygon points="398.77,326.33 400.97,328.53 398.77,330.73 396.57,328.53" fill="#000" stroke="#000" stroke-width="0.6"/>
<polygon points="401.04,338.47 403.24,340.67 401.04,342.87 398.84,340.67" fill="#000" stroke="#000" stroke-width="0.6"/>
<polygon points="402.18,350.73 404.38,352.93 402.18,355.13 399.98,352.93" fill="#000" stroke="#000" stroke-width="0.6"/>
<polygon points="418.08,362.87 420.28,365.07 418.08,367.27 415.88,365.07" fill="#000" stroke="#000" stroke-width="0.6"/>
<polygon points="419.22,375.01 421.42,377.21 419.22,379.41 417.02,377.21" fill="#000" stroke="#000" stroke-width="0.6"/>
<polygon points="466.93,375.01 469.13,377.21 466.93,379.41 464.73,377.21" fill="#000" stroke="#000" stroke-width="0.6"/>
<polygon points="466.93,289.70 469.33,292.10 466.93,294.50 464.53,292.10" fill="#fff" stroke="#000" stroke-width="1.0"/>
<rect x="330.40" y="447.20" width="172.40" height="63.80" fill="none" stroke="#222" stroke-width="0.9"/>
<circle cx="339.20" cy="455.00" r="2.80" fill="#000" stroke="#000" stroke-width="1.0"/>
<text x="349.90" y="458.30" font-size="9.4" text-anchor="start" textLength="29.10" lengthAdjust="spacingAndGlyphs">Vehicle</text>
<rect x="336.60" y="465.90" width="5.20" height="5.20" fill="#fff" stroke="#000" stroke-width="1.0"/>
<text x="349.90" y="471.80" font-size="9.4" text-anchor="start" textLength="49.10" lengthAdjust="spacingAndGlyphs">Vehicle + RT</text>
<polygon points="339.20,482.40 342.30,485.50 339.20,488.60 336.10,485.50" fill="#fff" stroke="#000" stroke-width="1.0"/>
<text x="349.90" y="488.80" font-size="9.4" text-anchor="start" textLength="81.10" lengthAdjust="spacingAndGlyphs">AZD7648 + RT + PBS</text>
<polygon points="339.20,498.10 342.30,501.20 339.20,504.30 336.10,501.20" fill="#000" stroke="#000" stroke-width="1.0"/>
<text x="349.90" y="504.50" font-size="9.4" text-anchor="start" textLength="101.40" lengthAdjust="spacingAndGlyphs">AZD7648 + RT + &#945;IFN&#945;R1</text>
<line x1="454.80" y1="452.50" x2="454.80" y2="470.20" stroke="#000" stroke-width="1.0"/>
<text x="457.00" y="464.00" font-size="8.4" text-anchor="start" font-weight="bold" letter-spacing="1.9">****</text>
<line x1="454.80" y1="471.30" x2="454.80" y2="484.50" stroke="#000" stroke-width="1.0"/>
<text x="457.00" y="480.70" font-size="8.4" text-anchor="start" font-weight="bold" letter-spacing="1.9">****</text>
<line x1="454.80" y1="486.20" x2="454.80" y2="500.50" stroke="#000" stroke-width="1.0"/>
<text x="457.00" y="498.40" font-size="8.4" text-anchor="start" font-weight="bold" letter-spacing="1.9">***</text>
</svg>
</body></html>
